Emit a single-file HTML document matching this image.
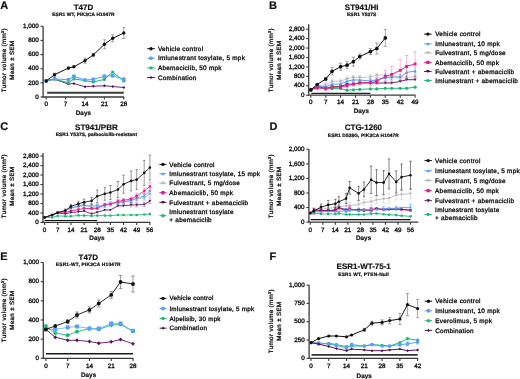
<!DOCTYPE html>
<html><head><meta charset="utf-8"><style>
html,body{margin:0;padding:0;background:#fff;}
svg{display:block;font-family:"Liberation Sans", sans-serif;will-change:transform;} text{stroke:#111;stroke-width:0.18px;text-rendering:geometricPrecision;}
</style></head><body>
<svg width="520" height="379" viewBox="0 0 520 379">
<rect width="520" height="379" fill="#fff"/>
<text x="0.30" y="8.80" font-size="11.0" text-anchor="start" font-weight="bold" fill="#111" >A</text>
<text x="83.50" y="9.80" font-size="8.0" text-anchor="middle" font-weight="bold" fill="#111" >T47D</text>
<text x="83.50" y="16.06" font-size="4.8" text-anchor="middle" font-weight="bold" fill="#111" letter-spacing="0.12" style="stroke-width:0.24px">ESR1 WT, PIK3CA H1047R</text>
<line x1="43.10" y1="26.30" x2="43.10" y2="97.00" stroke="#3a3a3a" stroke-width="1.3"/>
<line x1="40.50" y1="97.00" x2="43.10" y2="97.00" stroke="#3a3a3a" stroke-width="1.1"/>
<text x="38.80" y="98.70" font-size="6.3" text-anchor="end" font-weight="normal" fill="#111" style="stroke-width:0.34px">0</text>
<line x1="40.50" y1="82.86" x2="43.10" y2="82.86" stroke="#3a3a3a" stroke-width="1.1"/>
<text x="38.80" y="84.56" font-size="6.3" text-anchor="end" font-weight="normal" fill="#111" style="stroke-width:0.34px">200</text>
<line x1="40.50" y1="68.72" x2="43.10" y2="68.72" stroke="#3a3a3a" stroke-width="1.1"/>
<text x="38.80" y="70.42" font-size="6.3" text-anchor="end" font-weight="normal" fill="#111" style="stroke-width:0.34px">400</text>
<line x1="40.50" y1="54.58" x2="43.10" y2="54.58" stroke="#3a3a3a" stroke-width="1.1"/>
<text x="38.80" y="56.28" font-size="6.3" text-anchor="end" font-weight="normal" fill="#111" style="stroke-width:0.34px">600</text>
<line x1="40.50" y1="40.44" x2="43.10" y2="40.44" stroke="#3a3a3a" stroke-width="1.1"/>
<text x="38.80" y="42.14" font-size="6.3" text-anchor="end" font-weight="normal" fill="#111" style="stroke-width:0.34px">800</text>
<line x1="40.50" y1="26.30" x2="43.10" y2="26.30" stroke="#3a3a3a" stroke-width="1.1"/>
<text x="38.80" y="28.00" font-size="6.3" text-anchor="end" font-weight="normal" fill="#111" style="stroke-width:0.34px">1,000</text>
<line x1="42.45" y1="97.00" x2="124.19" y2="97.00" stroke="#3a3a3a" stroke-width="1.3"/>
<line x1="46.20" y1="97.00" x2="46.20" y2="99.60" stroke="#3a3a3a" stroke-width="1.1"/>
<text x="46.20" y="106.00" font-size="6.3" text-anchor="middle" font-weight="normal" fill="#111" style="stroke-width:0.34px">0</text>
<line x1="65.60" y1="97.00" x2="65.60" y2="99.60" stroke="#3a3a3a" stroke-width="1.1"/>
<text x="65.60" y="106.00" font-size="6.3" text-anchor="middle" font-weight="normal" fill="#111" style="stroke-width:0.34px">7</text>
<line x1="84.99" y1="97.00" x2="84.99" y2="99.60" stroke="#3a3a3a" stroke-width="1.1"/>
<text x="84.99" y="106.00" font-size="6.3" text-anchor="middle" font-weight="normal" fill="#111" style="stroke-width:0.34px">14</text>
<line x1="104.39" y1="97.00" x2="104.39" y2="99.60" stroke="#3a3a3a" stroke-width="1.1"/>
<text x="104.39" y="106.00" font-size="6.3" text-anchor="middle" font-weight="normal" fill="#111" style="stroke-width:0.34px">21</text>
<line x1="123.79" y1="97.00" x2="123.79" y2="99.60" stroke="#3a3a3a" stroke-width="1.1"/>
<text x="123.79" y="106.00" font-size="6.3" text-anchor="middle" font-weight="normal" fill="#111" style="stroke-width:0.34px">28</text>
<text x="83.40" y="114.54" font-size="6.4" text-anchor="middle" font-weight="bold" fill="#111" >Days</text>
<g transform="translate(6.40,60.10) rotate(-90)">
<text x="0.00" y="0.00" font-size="6.2" text-anchor="middle" font-weight="normal" fill="#111" letter-spacing="0.36" style="stroke-width:0.3px">Tumor volume (mm<tspan font-size="3.8" dy="-2">3</tspan><tspan dy="2">)</tspan></text>
<text x="0.00" y="7.80" font-size="6.2" text-anchor="middle" font-weight="normal" fill="#111" letter-spacing="0.36" style="stroke-width:0.3px">Mean ± SEM</text>
</g>
<line x1="47.17" y1="92.80" x2="123.79" y2="92.80" stroke="#3c3c3c" stroke-width="2.0"/>
<path d="M46.20 81.00 L54.51 79.30 L68.37 84.00 L73.91 83.60 L84.99 86.70 L93.31 86.20 L104.39 85.80 L112.70 86.50 L123.79 87.50" fill="none" stroke="#5a1458" stroke-width="0.9" stroke-linejoin="round"/>
<path d="M46.20 79.50L47.70 81.00L46.20 82.50L44.70 81.00Z" fill="#5a1458"/>
<path d="M54.51 77.80L56.01 79.30L54.51 80.80L53.01 79.30Z" fill="#5a1458"/>
<path d="M68.37 82.50L69.87 84.00L68.37 85.50L66.87 84.00Z" fill="#5a1458"/>
<path d="M73.91 82.10L75.41 83.60L73.91 85.10L72.41 83.60Z" fill="#5a1458"/>
<path d="M84.99 85.20L86.49 86.70L84.99 88.20L83.49 86.70Z" fill="#5a1458"/>
<path d="M93.31 84.70L94.81 86.20L93.31 87.70L91.81 86.20Z" fill="#5a1458"/>
<path d="M104.39 84.30L105.89 85.80L104.39 87.30L102.89 85.80Z" fill="#5a1458"/>
<path d="M112.70 85.00L114.20 86.50L112.70 88.00L111.20 86.50Z" fill="#5a1458"/>
<path d="M123.79 86.00L125.29 87.50L123.79 89.00L122.29 87.50Z" fill="#5a1458"/>
<path d="M46.20 80.50 L54.51 79.00 L68.37 82.80 L73.91 79.00 L84.99 80.60 L93.31 82.00 L104.39 79.40 L112.70 72.00 L123.79 81.00" fill="none" stroke="#1db877" stroke-width="1.0" stroke-linejoin="round"/>
<circle cx="46.20" cy="80.50" r="1.60" fill="#1db877"/>
<circle cx="54.51" cy="79.00" r="1.60" fill="#1db877"/>
<circle cx="68.37" cy="82.80" r="1.60" fill="#1db877"/>
<circle cx="73.91" cy="79.00" r="1.60" fill="#1db877"/>
<circle cx="84.99" cy="80.60" r="1.60" fill="#1db877"/>
<circle cx="93.31" cy="82.00" r="1.60" fill="#1db877"/>
<circle cx="104.39" cy="79.40" r="1.60" fill="#1db877"/>
<circle cx="112.70" cy="72.00" r="1.60" fill="#1db877"/>
<circle cx="123.79" cy="81.00" r="1.60" fill="#1db877"/>
<path d="M73.9 75.2V77.6M72.3 75.2H75.5M72.3 77.6H75.5" stroke="#55a2f6" stroke-width="0.7" opacity="0.8" fill="none"/>
<path d="M104.4 75.1V77.5M102.8 75.1H106.0M102.8 77.5H106.0" stroke="#55a2f6" stroke-width="0.7" opacity="0.8" fill="none"/>
<path d="M112.7 74.3V76.9M111.1 74.3H114.3M111.1 76.9H114.3" stroke="#55a2f6" stroke-width="0.7" opacity="0.8" fill="none"/>
<path d="M123.8 78.1V80.5M122.2 78.1H125.4M122.2 80.5H125.4" stroke="#55a2f6" stroke-width="0.7" opacity="0.8" fill="none"/>
<path d="M46.20 80.90 L54.51 78.80 L68.37 79.80 L73.91 76.40 L84.99 80.00 L93.31 79.40 L104.39 76.30 L112.70 75.60 L123.79 79.30" fill="none" stroke="#55a2f6" stroke-width="1.0" stroke-linejoin="round"/>
<rect x="44.41" y="79.11" width="3.58" height="3.58" rx="0.67" fill="#55a2f6"/>
<rect x="52.72" y="77.01" width="3.58" height="3.58" rx="0.67" fill="#55a2f6"/>
<rect x="66.58" y="78.01" width="3.58" height="3.58" rx="0.67" fill="#55a2f6"/>
<rect x="72.12" y="74.61" width="3.58" height="3.58" rx="0.67" fill="#55a2f6"/>
<rect x="83.20" y="78.21" width="3.58" height="3.58" rx="0.67" fill="#55a2f6"/>
<rect x="91.52" y="77.61" width="3.58" height="3.58" rx="0.67" fill="#55a2f6"/>
<rect x="102.60" y="74.51" width="3.58" height="3.58" rx="0.67" fill="#55a2f6"/>
<rect x="110.91" y="73.81" width="3.58" height="3.58" rx="0.67" fill="#55a2f6"/>
<rect x="122.00" y="77.51" width="3.58" height="3.58" rx="0.67" fill="#55a2f6"/>
<path d="M54.5 73.2V76.2M52.9 73.2H56.1M52.9 76.2H56.1" stroke="#666" stroke-width="0.7" opacity="0.8" fill="none"/>
<path d="M68.4 66.9V69.3M66.8 66.9H70.0M66.8 69.3H70.0" stroke="#666" stroke-width="0.7" opacity="0.8" fill="none"/>
<path d="M85.0 58.2V63.2M83.4 58.2H86.6M83.4 63.2H86.6" stroke="#666" stroke-width="0.7" opacity="0.8" fill="none"/>
<path d="M93.3 53.4V56.4M91.7 53.4H94.9M91.7 56.4H94.9" stroke="#666" stroke-width="0.7" opacity="0.8" fill="none"/>
<path d="M104.4 39.8V48.8M102.8 39.8H106.0M102.8 48.8H106.0" stroke="#666" stroke-width="0.7" opacity="0.8" fill="none"/>
<path d="M112.7 34.8V41.8M111.1 34.8H114.3M111.1 41.8H114.3" stroke="#666" stroke-width="0.7" opacity="0.8" fill="none"/>
<path d="M123.8 27.6V38.4M122.2 27.6H125.4M122.2 38.4H125.4" stroke="#666" stroke-width="0.7" opacity="0.8" fill="none"/>
<path d="M46.20 81.00 L54.51 74.70 L68.37 68.10 L73.91 66.80 L84.99 60.70 L93.31 54.90 L104.39 44.30 L112.70 38.30 L123.79 33.00" fill="none" stroke="#111" stroke-width="1.0" stroke-linejoin="round"/>
<circle cx="46.20" cy="81.00" r="1.68" fill="#111"/>
<circle cx="54.51" cy="74.70" r="1.68" fill="#111"/>
<circle cx="68.37" cy="68.10" r="1.68" fill="#111"/>
<circle cx="73.91" cy="66.80" r="1.68" fill="#111"/>
<circle cx="84.99" cy="60.70" r="1.68" fill="#111"/>
<circle cx="93.31" cy="54.90" r="1.68" fill="#111"/>
<circle cx="104.39" cy="44.30" r="1.68" fill="#111"/>
<circle cx="112.70" cy="38.30" r="1.68" fill="#111"/>
<circle cx="123.79" cy="33.00" r="1.68" fill="#111"/>
<line x1="147.20" y1="48.70" x2="154.80" y2="48.70" stroke="#111" stroke-width="1.0"/>
<circle cx="151.00" cy="48.70" r="1.68" fill="#111"/>
<text x="157.90" y="50.84" font-size="6.4" text-anchor="start" font-weight="normal" fill="#111" style="stroke-width:0.32px" letter-spacing="0.26">Vehicle control</text>
<line x1="147.20" y1="58.20" x2="154.80" y2="58.20" stroke="#55a2f6" stroke-width="1.0"/>
<rect x="149.32" y="56.52" width="3.36" height="3.36" rx="0.63" fill="#55a2f6"/>
<text x="157.90" y="60.34" font-size="6.4" text-anchor="start" font-weight="normal" fill="#111" style="stroke-width:0.32px" letter-spacing="0.26">Imlunestrant tosylate, 5 mpk</text>
<line x1="147.20" y1="67.90" x2="154.80" y2="67.90" stroke="#1db877" stroke-width="1.0"/>
<circle cx="151.00" cy="67.90" r="1.68" fill="#1db877"/>
<text x="157.90" y="70.04" font-size="6.4" text-anchor="start" font-weight="normal" fill="#111" style="stroke-width:0.32px" letter-spacing="0.26">Abemaciclib, 50 mpk</text>
<line x1="147.20" y1="77.50" x2="154.80" y2="77.50" stroke="#5a1458" stroke-width="1.0"/>
<path d="M151.00 75.92L152.57 77.50L151.00 79.08L149.43 77.50Z" fill="#5a1458"/>
<text x="157.90" y="79.64" font-size="6.4" text-anchor="start" font-weight="normal" fill="#111" style="stroke-width:0.32px" letter-spacing="0.26">Combination</text>
<text x="268.90" y="8.90" font-size="11.0" text-anchor="start" font-weight="bold" fill="#111" >B</text>
<text x="361.70" y="9.80" font-size="8.0" text-anchor="middle" font-weight="bold" fill="#111" >ST941/HI</text>
<text x="361.70" y="16.06" font-size="4.8" text-anchor="middle" font-weight="bold" fill="#111" letter-spacing="0.12" style="stroke-width:0.24px">ESR1 Y537S</text>
<line x1="308.70" y1="24.30" x2="308.70" y2="95.20" stroke="#3a3a3a" stroke-width="1.3"/>
<line x1="306.10" y1="95.20" x2="308.70" y2="95.20" stroke="#3a3a3a" stroke-width="1.1"/>
<text x="304.40" y="96.91" font-size="6.3" text-anchor="end" font-weight="normal" fill="#111" style="stroke-width:0.34px">0</text>
<line x1="306.10" y1="85.77" x2="308.70" y2="85.77" stroke="#3a3a3a" stroke-width="1.1"/>
<text x="304.40" y="87.48" font-size="6.3" text-anchor="end" font-weight="normal" fill="#111" style="stroke-width:0.34px">400</text>
<line x1="306.10" y1="76.34" x2="308.70" y2="76.34" stroke="#3a3a3a" stroke-width="1.1"/>
<text x="304.40" y="78.05" font-size="6.3" text-anchor="end" font-weight="normal" fill="#111" style="stroke-width:0.34px">800</text>
<line x1="306.10" y1="66.92" x2="308.70" y2="66.92" stroke="#3a3a3a" stroke-width="1.1"/>
<text x="304.40" y="68.62" font-size="6.3" text-anchor="end" font-weight="normal" fill="#111" style="stroke-width:0.34px">1,200</text>
<line x1="306.10" y1="57.49" x2="308.70" y2="57.49" stroke="#3a3a3a" stroke-width="1.1"/>
<text x="304.40" y="59.19" font-size="6.3" text-anchor="end" font-weight="normal" fill="#111" style="stroke-width:0.34px">1,600</text>
<line x1="306.10" y1="48.06" x2="308.70" y2="48.06" stroke="#3a3a3a" stroke-width="1.1"/>
<text x="304.40" y="49.77" font-size="6.3" text-anchor="end" font-weight="normal" fill="#111" style="stroke-width:0.34px">2,000</text>
<line x1="306.10" y1="38.63" x2="308.70" y2="38.63" stroke="#3a3a3a" stroke-width="1.1"/>
<text x="304.40" y="40.34" font-size="6.3" text-anchor="end" font-weight="normal" fill="#111" style="stroke-width:0.34px">2,400</text>
<line x1="306.10" y1="29.20" x2="308.70" y2="29.20" stroke="#3a3a3a" stroke-width="1.1"/>
<text x="304.40" y="30.91" font-size="6.3" text-anchor="end" font-weight="normal" fill="#111" style="stroke-width:0.34px">2,800</text>
<line x1="308.05" y1="95.20" x2="415.52" y2="95.20" stroke="#3a3a3a" stroke-width="1.3"/>
<line x1="310.80" y1="95.20" x2="310.80" y2="97.80" stroke="#3a3a3a" stroke-width="1.1"/>
<text x="310.80" y="104.11" font-size="6.3" text-anchor="middle" font-weight="normal" fill="#111" style="stroke-width:0.34px">0</text>
<line x1="325.70" y1="95.20" x2="325.70" y2="97.80" stroke="#3a3a3a" stroke-width="1.1"/>
<text x="325.70" y="104.11" font-size="6.3" text-anchor="middle" font-weight="normal" fill="#111" style="stroke-width:0.34px">7</text>
<line x1="340.61" y1="95.20" x2="340.61" y2="97.80" stroke="#3a3a3a" stroke-width="1.1"/>
<text x="340.61" y="104.11" font-size="6.3" text-anchor="middle" font-weight="normal" fill="#111" style="stroke-width:0.34px">14</text>
<line x1="355.51" y1="95.20" x2="355.51" y2="97.80" stroke="#3a3a3a" stroke-width="1.1"/>
<text x="355.51" y="104.11" font-size="6.3" text-anchor="middle" font-weight="normal" fill="#111" style="stroke-width:0.34px">21</text>
<line x1="370.41" y1="95.20" x2="370.41" y2="97.80" stroke="#3a3a3a" stroke-width="1.1"/>
<text x="370.41" y="104.11" font-size="6.3" text-anchor="middle" font-weight="normal" fill="#111" style="stroke-width:0.34px">28</text>
<line x1="385.31" y1="95.20" x2="385.31" y2="97.80" stroke="#3a3a3a" stroke-width="1.1"/>
<text x="385.31" y="104.11" font-size="6.3" text-anchor="middle" font-weight="normal" fill="#111" style="stroke-width:0.34px">35</text>
<line x1="400.22" y1="95.20" x2="400.22" y2="97.80" stroke="#3a3a3a" stroke-width="1.1"/>
<text x="400.22" y="104.11" font-size="6.3" text-anchor="middle" font-weight="normal" fill="#111" style="stroke-width:0.34px">42</text>
<line x1="415.12" y1="95.20" x2="415.12" y2="97.80" stroke="#3a3a3a" stroke-width="1.1"/>
<text x="415.12" y="104.11" font-size="6.3" text-anchor="middle" font-weight="normal" fill="#111" style="stroke-width:0.34px">49</text>
<text x="361.30" y="112.64" font-size="6.4" text-anchor="middle" font-weight="bold" fill="#111" >Days</text>
<g transform="translate(273.10,60.10) rotate(-90)">
<text x="0.00" y="0.00" font-size="6.2" text-anchor="middle" font-weight="normal" fill="#111" letter-spacing="0.36" style="stroke-width:0.3px">Tumor volume (mm<tspan font-size="3.8" dy="-2">3</tspan><tspan dy="2">)</tspan></text>
<text x="0.00" y="7.80" font-size="6.2" text-anchor="middle" font-weight="normal" fill="#111" letter-spacing="0.36" style="stroke-width:0.3px">Mean ± SEM</text>
</g>
<line x1="311.23" y1="93.30" x2="370.41" y2="93.30" stroke="#222" stroke-width="1.3"/>
<path d="M325.7 82.8V86.8M324.1 82.8H327.3M324.1 86.8H327.3" stroke="#b4b4b4" stroke-width="0.7" opacity="0.6" fill="none"/>
<path d="M332.1 79.3V83.3M330.5 79.3H333.7M330.5 83.3H333.7" stroke="#b4b4b4" stroke-width="0.7" opacity="0.6" fill="none"/>
<path d="M340.6 79.3V83.3M339.0 79.3H342.2M339.0 83.3H342.2" stroke="#b4b4b4" stroke-width="0.7" opacity="0.6" fill="none"/>
<path d="M347.0 76.7V80.7M345.4 76.7H348.6M345.4 80.7H348.6" stroke="#b4b4b4" stroke-width="0.7" opacity="0.6" fill="none"/>
<path d="M353.4 75.5V79.5M351.8 75.5H355.0M351.8 79.5H355.0" stroke="#b4b4b4" stroke-width="0.7" opacity="0.6" fill="none"/>
<path d="M359.8 75.5V79.5M358.2 75.5H361.4M358.2 79.5H361.4" stroke="#b4b4b4" stroke-width="0.7" opacity="0.6" fill="none"/>
<path d="M370.4 75.0V79.0M368.8 75.0H372.0M368.8 79.0H372.0" stroke="#b4b4b4" stroke-width="0.7" opacity="0.6" fill="none"/>
<path d="M376.8 73.1V77.1M375.2 73.1H378.4M375.2 77.1H378.4" stroke="#b4b4b4" stroke-width="0.7" opacity="0.6" fill="none"/>
<path d="M385.3 73.1V77.1M383.7 73.1H386.9M383.7 77.1H386.9" stroke="#b4b4b4" stroke-width="0.7" opacity="0.6" fill="none"/>
<path d="M391.7 75.0V79.0M390.1 75.0H393.3M390.1 79.0H393.3" stroke="#b4b4b4" stroke-width="0.7" opacity="0.6" fill="none"/>
<path d="M400.2 75.0V79.0M398.6 75.0H401.8M398.6 79.0H401.8" stroke="#b4b4b4" stroke-width="0.7" opacity="0.6" fill="none"/>
<path d="M406.6 75.0V79.0M405.0 75.0H408.2M405.0 79.0H408.2" stroke="#b4b4b4" stroke-width="0.7" opacity="0.6" fill="none"/>
<path d="M415.1 75.0V79.0M413.5 75.0H416.7M413.5 79.0H416.7" stroke="#b4b4b4" stroke-width="0.7" opacity="0.6" fill="none"/>
<path d="M310.80 89.80 L317.19 86.00 L325.70 84.80 L332.09 81.30 L340.61 81.30 L346.99 78.70 L353.38 77.50 L359.77 77.50 L370.41 77.00 L376.80 75.10 L385.31 75.10 L391.70 77.00 L400.22 77.00 L406.61 77.00 L415.12 77.00" fill="none" stroke="#b4b4b4" stroke-width="0.7" stroke-linejoin="round"/>
<path d="M310.80 91.24L312.25 88.64L309.36 88.64Z" fill="#b4b4b4"/>
<path d="M317.19 87.44L318.63 84.84L315.74 84.84Z" fill="#b4b4b4"/>
<path d="M325.70 86.24L327.15 83.64L324.26 83.64Z" fill="#b4b4b4"/>
<path d="M332.09 82.74L333.54 80.14L330.65 80.14Z" fill="#b4b4b4"/>
<path d="M340.61 82.74L342.05 80.14L339.16 80.14Z" fill="#b4b4b4"/>
<path d="M346.99 80.14L348.44 77.54L345.55 77.54Z" fill="#b4b4b4"/>
<path d="M353.38 78.94L354.82 76.34L351.94 76.34Z" fill="#b4b4b4"/>
<path d="M359.77 78.94L361.21 76.34L358.32 76.34Z" fill="#b4b4b4"/>
<path d="M370.41 78.44L371.86 75.84L368.97 75.84Z" fill="#b4b4b4"/>
<path d="M376.80 76.54L378.24 73.94L375.35 73.94Z" fill="#b4b4b4"/>
<path d="M385.31 76.54L386.76 73.94L383.87 73.94Z" fill="#b4b4b4"/>
<path d="M391.70 78.44L393.15 75.84L390.26 75.84Z" fill="#b4b4b4"/>
<path d="M400.22 78.44L401.66 75.84L398.77 75.84Z" fill="#b4b4b4"/>
<path d="M406.61 78.44L408.05 75.84L405.16 75.84Z" fill="#b4b4b4"/>
<path d="M415.12 78.44L416.57 75.84L413.68 75.84Z" fill="#b4b4b4"/>
<path d="M325.7 85.3V88.3M324.1 85.3H327.3M324.1 88.3H327.3" stroke="#55a2f6" stroke-width="0.7" opacity="0.45" fill="none"/>
<path d="M332.1 82.2V86.2M330.5 82.2H333.7M330.5 86.2H333.7" stroke="#55a2f6" stroke-width="0.7" opacity="0.45" fill="none"/>
<path d="M340.6 82.0V86.0M339.0 82.0H342.2M339.0 86.0H342.2" stroke="#55a2f6" stroke-width="0.7" opacity="0.45" fill="none"/>
<path d="M347.0 79.3V83.3M345.4 79.3H348.6M345.4 83.3H348.6" stroke="#55a2f6" stroke-width="0.7" opacity="0.45" fill="none"/>
<path d="M353.4 77.3V82.3M351.8 77.3H355.0M351.8 82.3H355.0" stroke="#55a2f6" stroke-width="0.7" opacity="0.45" fill="none"/>
<path d="M359.8 77.6V82.6M358.2 77.6H361.4M358.2 82.6H361.4" stroke="#55a2f6" stroke-width="0.7" opacity="0.45" fill="none"/>
<path d="M370.4 78.5V83.5M368.8 78.5H372.0M368.8 83.5H372.0" stroke="#55a2f6" stroke-width="0.7" opacity="0.45" fill="none"/>
<path d="M376.8 77.2V82.2M375.2 77.2H378.4M375.2 82.2H378.4" stroke="#55a2f6" stroke-width="0.7" opacity="0.45" fill="none"/>
<path d="M385.3 74.7V80.7M383.7 74.7H386.9M383.7 80.7H386.9" stroke="#55a2f6" stroke-width="0.7" opacity="0.45" fill="none"/>
<path d="M391.7 74.0V80.0M390.1 74.0H393.3M390.1 80.0H393.3" stroke="#55a2f6" stroke-width="0.7" opacity="0.45" fill="none"/>
<path d="M400.2 74.0V80.0M398.6 74.0H401.8M398.6 80.0H401.8" stroke="#55a2f6" stroke-width="0.7" opacity="0.45" fill="none"/>
<path d="M406.6 66.4V78.4M405.0 66.4H408.2M405.0 78.4H408.2" stroke="#55a2f6" stroke-width="0.7" opacity="0.45" fill="none"/>
<path d="M415.1 65.1V77.1M413.5 65.1H416.7M413.5 77.1H416.7" stroke="#55a2f6" stroke-width="0.7" opacity="0.45" fill="none"/>
<path d="M310.80 89.80 L317.19 86.00 L325.70 86.80 L332.09 84.20 L340.61 84.00 L346.99 81.30 L353.38 79.80 L359.77 80.10 L370.41 81.00 L376.80 79.70 L385.31 77.70 L391.70 77.00 L400.22 77.00 L406.61 72.40 L415.12 71.10" fill="none" stroke="#55a2f6" stroke-width="1.0" stroke-linejoin="round"/>
<path d="M310.80 88.10L312.50 91.16L309.10 91.16Z" fill="#55a2f6"/>
<path d="M317.19 84.30L318.89 87.36L315.49 87.36Z" fill="#55a2f6"/>
<path d="M325.70 85.10L327.40 88.16L324.00 88.16Z" fill="#55a2f6"/>
<path d="M332.09 82.50L333.79 85.56L330.39 85.56Z" fill="#55a2f6"/>
<path d="M340.61 82.30L342.31 85.36L338.91 85.36Z" fill="#55a2f6"/>
<path d="M346.99 79.60L348.69 82.66L345.29 82.66Z" fill="#55a2f6"/>
<path d="M353.38 78.10L355.08 81.16L351.68 81.16Z" fill="#55a2f6"/>
<path d="M359.77 78.40L361.47 81.46L358.07 81.46Z" fill="#55a2f6"/>
<path d="M370.41 79.30L372.11 82.36L368.71 82.36Z" fill="#55a2f6"/>
<path d="M376.80 78.00L378.50 81.06L375.10 81.06Z" fill="#55a2f6"/>
<path d="M385.31 76.00L387.01 79.06L383.62 79.06Z" fill="#55a2f6"/>
<path d="M391.70 75.30L393.40 78.36L390.00 78.36Z" fill="#55a2f6"/>
<path d="M400.22 75.30L401.92 78.36L398.52 78.36Z" fill="#55a2f6"/>
<path d="M406.61 70.70L408.31 73.76L404.91 73.76Z" fill="#55a2f6"/>
<path d="M415.12 69.40L416.82 72.46L413.42 72.46Z" fill="#55a2f6"/>
<path d="M310.80 89.80 L317.19 86.80 L325.70 88.30 L332.09 86.80 L340.61 86.50 L346.99 84.20 L353.38 84.20 L359.77 82.80 L370.41 83.00 L376.80 83.00 L385.31 83.00 L391.70 83.00 L400.22 81.40 L406.61 79.70 L415.12 79.70" fill="none" stroke="#5a1458" stroke-width="0.9" stroke-linejoin="round"/>
<path d="M310.80 91.24L312.25 88.64L309.36 88.64Z" fill="#5a1458"/>
<path d="M317.19 88.24L318.63 85.64L315.74 85.64Z" fill="#5a1458"/>
<path d="M325.70 89.74L327.15 87.14L324.26 87.14Z" fill="#5a1458"/>
<path d="M332.09 88.24L333.54 85.64L330.65 85.64Z" fill="#5a1458"/>
<path d="M340.61 87.94L342.05 85.34L339.16 85.34Z" fill="#5a1458"/>
<path d="M346.99 85.64L348.44 83.04L345.55 83.04Z" fill="#5a1458"/>
<path d="M353.38 85.64L354.82 83.04L351.94 83.04Z" fill="#5a1458"/>
<path d="M359.77 84.24L361.21 81.64L358.32 81.64Z" fill="#5a1458"/>
<path d="M370.41 84.44L371.86 81.84L368.97 81.84Z" fill="#5a1458"/>
<path d="M376.80 84.44L378.24 81.84L375.35 81.84Z" fill="#5a1458"/>
<path d="M385.31 84.44L386.76 81.84L383.87 81.84Z" fill="#5a1458"/>
<path d="M391.70 84.44L393.15 81.84L390.26 81.84Z" fill="#5a1458"/>
<path d="M400.22 82.84L401.66 80.24L398.77 80.24Z" fill="#5a1458"/>
<path d="M406.61 81.14L408.05 78.54L405.16 78.54Z" fill="#5a1458"/>
<path d="M415.12 81.14L416.57 78.54L413.68 78.54Z" fill="#5a1458"/>
<path d="M310.80 89.80 L317.19 87.70 L325.70 88.60 L332.09 88.60 L340.61 88.60 L346.99 90.20 L353.38 89.80 L359.77 89.40 L370.41 88.90 L376.80 88.90 L385.31 88.30 L391.70 88.30 L400.22 88.30 L406.61 88.30 L415.12 87.20" fill="none" stroke="#1db877" stroke-width="1.0" stroke-linejoin="round"/>
<circle cx="310.80" cy="89.80" r="1.60" fill="#1db877"/>
<circle cx="317.19" cy="87.70" r="1.60" fill="#1db877"/>
<circle cx="325.70" cy="88.60" r="1.60" fill="#1db877"/>
<circle cx="332.09" cy="88.60" r="1.60" fill="#1db877"/>
<circle cx="340.61" cy="88.60" r="1.60" fill="#1db877"/>
<circle cx="346.99" cy="90.20" r="1.60" fill="#1db877"/>
<circle cx="353.38" cy="89.80" r="1.60" fill="#1db877"/>
<circle cx="359.77" cy="89.40" r="1.60" fill="#1db877"/>
<circle cx="370.41" cy="88.90" r="1.60" fill="#1db877"/>
<circle cx="376.80" cy="88.90" r="1.60" fill="#1db877"/>
<circle cx="385.31" cy="88.30" r="1.60" fill="#1db877"/>
<circle cx="391.70" cy="88.30" r="1.60" fill="#1db877"/>
<circle cx="400.22" cy="88.30" r="1.60" fill="#1db877"/>
<circle cx="406.61" cy="88.30" r="1.60" fill="#1db877"/>
<circle cx="415.12" cy="87.20" r="1.60" fill="#1db877"/>
<path d="M317.2 85.7V89.7M315.6 85.7H318.8M315.6 89.7H318.8" stroke="#ec1a8a" stroke-width="0.7" opacity="0.45" fill="none"/>
<path d="M325.7 86.6V90.6M324.1 86.6H327.3M324.1 90.6H327.3" stroke="#ec1a8a" stroke-width="0.7" opacity="0.45" fill="none"/>
<path d="M332.1 85.3V89.3M330.5 85.3H333.7M330.5 89.3H333.7" stroke="#ec1a8a" stroke-width="0.7" opacity="0.45" fill="none"/>
<path d="M340.6 85.1V89.1M339.0 85.1H342.2M339.0 89.1H342.2" stroke="#ec1a8a" stroke-width="0.7" opacity="0.45" fill="none"/>
<path d="M347.0 83.6V87.6M345.4 83.6H348.6M345.4 87.6H348.6" stroke="#ec1a8a" stroke-width="0.7" opacity="0.45" fill="none"/>
<path d="M353.4 82.0V86.0M351.8 82.0H355.0M351.8 86.0H355.0" stroke="#ec1a8a" stroke-width="0.7" opacity="0.45" fill="none"/>
<path d="M359.8 81.1V85.1M358.2 81.1H361.4M358.2 85.1H361.4" stroke="#ec1a8a" stroke-width="0.7" opacity="0.45" fill="none"/>
<path d="M370.4 79.7V85.7M368.8 79.7H372.0M368.8 85.7H372.0" stroke="#ec1a8a" stroke-width="0.7" opacity="0.45" fill="none"/>
<path d="M376.8 78.3V84.3M375.2 78.3H378.4M375.2 84.3H378.4" stroke="#ec1a8a" stroke-width="0.7" opacity="0.45" fill="none"/>
<path d="M385.3 70.4V82.4M383.7 70.4H386.9M383.7 82.4H386.9" stroke="#ec1a8a" stroke-width="0.7" opacity="0.45" fill="none"/>
<path d="M391.7 66.4V82.4M390.1 66.4H393.3M390.1 82.4H393.3" stroke="#ec1a8a" stroke-width="0.7" opacity="0.45" fill="none"/>
<path d="M400.2 59.4V81.4M398.6 59.4H401.8M398.6 81.4H401.8" stroke="#ec1a8a" stroke-width="0.7" opacity="0.45" fill="none"/>
<path d="M406.6 55.5V77.5M405.0 55.5H408.2M405.0 77.5H408.2" stroke="#ec1a8a" stroke-width="0.7" opacity="0.45" fill="none"/>
<path d="M415.1 51.4V76.4M413.5 51.4H416.7M413.5 76.4H416.7" stroke="#ec1a8a" stroke-width="0.7" opacity="0.45" fill="none"/>
<path d="M310.80 89.80 L317.19 87.70 L325.70 88.60 L332.09 87.30 L340.61 87.10 L346.99 85.60 L353.38 84.00 L359.77 83.10 L370.41 82.70 L376.80 81.30 L385.31 76.40 L391.70 74.40 L400.22 70.40 L406.61 66.50 L415.12 63.90" fill="none" stroke="#ec1a8a" stroke-width="1.0" stroke-linejoin="round"/>
<rect x="309.36" y="88.36" width="2.88" height="2.88" rx="0.54" fill="#ec1a8a"/>
<rect x="315.75" y="86.26" width="2.88" height="2.88" rx="0.54" fill="#ec1a8a"/>
<rect x="324.26" y="87.16" width="2.88" height="2.88" rx="0.54" fill="#ec1a8a"/>
<rect x="330.65" y="85.86" width="2.88" height="2.88" rx="0.54" fill="#ec1a8a"/>
<rect x="339.17" y="85.66" width="2.88" height="2.88" rx="0.54" fill="#ec1a8a"/>
<rect x="345.55" y="84.16" width="2.88" height="2.88" rx="0.54" fill="#ec1a8a"/>
<rect x="351.94" y="82.56" width="2.88" height="2.88" rx="0.54" fill="#ec1a8a"/>
<rect x="358.33" y="81.66" width="2.88" height="2.88" rx="0.54" fill="#ec1a8a"/>
<rect x="368.97" y="81.26" width="2.88" height="2.88" rx="0.54" fill="#ec1a8a"/>
<rect x="375.36" y="79.86" width="2.88" height="2.88" rx="0.54" fill="#ec1a8a"/>
<rect x="383.88" y="74.96" width="2.88" height="2.88" rx="0.54" fill="#ec1a8a"/>
<rect x="390.26" y="72.96" width="2.88" height="2.88" rx="0.54" fill="#ec1a8a"/>
<rect x="398.78" y="68.96" width="2.88" height="2.88" rx="0.54" fill="#ec1a8a"/>
<rect x="405.17" y="65.06" width="2.88" height="2.88" rx="0.54" fill="#ec1a8a"/>
<rect x="413.68" y="62.46" width="2.88" height="2.88" rx="0.54" fill="#ec1a8a"/>
<path d="M325.7 77.5V80.5M324.1 77.5H327.3M324.1 80.5H327.3" stroke="#666" stroke-width="0.7" opacity="0.8" fill="none"/>
<path d="M332.1 67.6V75.0M330.5 67.6H333.7M330.5 75.0H333.7" stroke="#666" stroke-width="0.7" opacity="0.8" fill="none"/>
<path d="M340.6 63.2V70.2M339.0 63.2H342.2M339.0 70.2H342.2" stroke="#666" stroke-width="0.7" opacity="0.8" fill="none"/>
<path d="M347.0 61.7V68.7M345.4 61.7H348.6M345.4 68.7H348.6" stroke="#666" stroke-width="0.7" opacity="0.8" fill="none"/>
<path d="M353.4 57.2V66.2M351.8 57.2H355.0M351.8 66.2H355.0" stroke="#666" stroke-width="0.7" opacity="0.8" fill="none"/>
<path d="M359.8 54.0V59.0M358.2 54.0H361.4M358.2 59.0H361.4" stroke="#666" stroke-width="0.7" opacity="0.8" fill="none"/>
<path d="M370.4 48.6V54.6M368.8 48.6H372.0M368.8 54.6H372.0" stroke="#666" stroke-width="0.7" opacity="0.8" fill="none"/>
<path d="M376.8 43.0V54.0M375.2 43.0H378.4M375.2 54.0H378.4" stroke="#666" stroke-width="0.7" opacity="0.8" fill="none"/>
<path d="M385.3 29.4V46.4M383.7 29.4H386.9M383.7 46.4H386.9" stroke="#666" stroke-width="0.7" opacity="0.8" fill="none"/>
<path d="M310.80 89.80 L317.19 84.50 L325.70 79.00 L332.09 71.30 L340.61 66.70 L346.99 65.20 L353.38 61.70 L359.77 56.50 L370.41 51.60 L376.80 48.50 L385.31 37.90" fill="none" stroke="#111" stroke-width="1.0" stroke-linejoin="round"/>
<circle cx="310.80" cy="89.80" r="1.84" fill="#111"/>
<circle cx="317.19" cy="84.50" r="1.84" fill="#111"/>
<circle cx="325.70" cy="79.00" r="1.84" fill="#111"/>
<circle cx="332.09" cy="71.30" r="1.84" fill="#111"/>
<circle cx="340.61" cy="66.70" r="1.84" fill="#111"/>
<circle cx="346.99" cy="65.20" r="1.84" fill="#111"/>
<circle cx="353.38" cy="61.70" r="1.84" fill="#111"/>
<circle cx="359.77" cy="56.50" r="1.84" fill="#111"/>
<circle cx="370.41" cy="51.60" r="1.84" fill="#111"/>
<circle cx="376.80" cy="48.50" r="1.84" fill="#111"/>
<circle cx="385.31" cy="37.90" r="1.84" fill="#111"/>
<line x1="424.10" y1="34.10" x2="431.60" y2="34.10" stroke="#111" stroke-width="1.0"/>
<circle cx="427.85" cy="34.10" r="1.68" fill="#111"/>
<text x="435.20" y="36.24" font-size="6.4" text-anchor="start" font-weight="normal" fill="#111" style="stroke-width:0.32px" letter-spacing="0.26">Vehicle control</text>
<line x1="424.10" y1="43.80" x2="431.60" y2="43.80" stroke="#55a2f6" stroke-width="1.0"/>
<path d="M427.85 42.02L429.64 45.23L426.06 45.23Z" fill="#55a2f6"/>
<text x="435.20" y="45.94" font-size="6.4" text-anchor="start" font-weight="normal" fill="#111" style="stroke-width:0.32px" letter-spacing="0.26">Imlunestrant, 10 mpk</text>
<line x1="424.10" y1="52.90" x2="431.60" y2="52.90" stroke="#b4b4b4" stroke-width="1.0"/>
<path d="M427.85 54.68L429.64 51.47L426.06 51.47Z" fill="#b4b4b4"/>
<text x="435.20" y="55.04" font-size="6.4" text-anchor="start" font-weight="normal" fill="#111" style="stroke-width:0.32px" letter-spacing="0.26">Fulvestrant, 5 mg/dose</text>
<line x1="424.10" y1="62.40" x2="431.60" y2="62.40" stroke="#ec1a8a" stroke-width="1.0"/>
<rect x="426.17" y="60.72" width="3.36" height="3.36" rx="0.63" fill="#ec1a8a"/>
<text x="435.20" y="64.54" font-size="6.4" text-anchor="start" font-weight="normal" fill="#111" style="stroke-width:0.32px" letter-spacing="0.26">Abemaciclib, 50 mpk</text>
<line x1="424.10" y1="71.50" x2="431.60" y2="71.50" stroke="#5a1458" stroke-width="1.0"/>
<path d="M427.85 73.28L429.64 70.07L426.06 70.07Z" fill="#5a1458"/>
<text x="435.20" y="73.64" font-size="6.4" text-anchor="start" font-weight="normal" fill="#111" style="stroke-width:0.32px" letter-spacing="0.26">Fulvestrant + abemaciclib</text>
<line x1="424.10" y1="80.60" x2="431.60" y2="80.60" stroke="#1db877" stroke-width="1.0"/>
<circle cx="427.85" cy="80.60" r="1.68" fill="#1db877"/>
<text x="435.20" y="82.74" font-size="6.4" text-anchor="start" font-weight="normal" fill="#111" style="stroke-width:0.32px" letter-spacing="0.26">Imlunestrant + abemaciclib</text>
<text x="0.20" y="130.00" font-size="11.0" text-anchor="start" font-weight="bold" fill="#111" >C</text>
<text x="96.40" y="129.90" font-size="8.0" text-anchor="middle" font-weight="bold" fill="#111" >ST941/PBR</text>
<text x="96.40" y="136.46" font-size="4.8" text-anchor="middle" font-weight="bold" fill="#111" letter-spacing="0.12" style="stroke-width:0.24px">ESR1 Y537S, palbociclib-resistant</text>
<line x1="43.00" y1="153.00" x2="43.00" y2="222.40" stroke="#3a3a3a" stroke-width="1.3"/>
<line x1="40.40" y1="222.40" x2="43.00" y2="222.40" stroke="#3a3a3a" stroke-width="1.1"/>
<text x="38.70" y="224.11" font-size="6.3" text-anchor="end" font-weight="normal" fill="#111" style="stroke-width:0.34px">0</text>
<line x1="40.40" y1="212.93" x2="43.00" y2="212.93" stroke="#3a3a3a" stroke-width="1.1"/>
<text x="38.70" y="214.63" font-size="6.3" text-anchor="end" font-weight="normal" fill="#111" style="stroke-width:0.34px">400</text>
<line x1="40.40" y1="203.46" x2="43.00" y2="203.46" stroke="#3a3a3a" stroke-width="1.1"/>
<text x="38.70" y="205.16" font-size="6.3" text-anchor="end" font-weight="normal" fill="#111" style="stroke-width:0.34px">800</text>
<line x1="40.40" y1="193.98" x2="43.00" y2="193.98" stroke="#3a3a3a" stroke-width="1.1"/>
<text x="38.70" y="195.69" font-size="6.3" text-anchor="end" font-weight="normal" fill="#111" style="stroke-width:0.34px">1,200</text>
<line x1="40.40" y1="184.51" x2="43.00" y2="184.51" stroke="#3a3a3a" stroke-width="1.1"/>
<text x="38.70" y="186.22" font-size="6.3" text-anchor="end" font-weight="normal" fill="#111" style="stroke-width:0.34px">1,600</text>
<line x1="40.40" y1="175.04" x2="43.00" y2="175.04" stroke="#3a3a3a" stroke-width="1.1"/>
<text x="38.70" y="176.75" font-size="6.3" text-anchor="end" font-weight="normal" fill="#111" style="stroke-width:0.34px">2,000</text>
<line x1="40.40" y1="165.57" x2="43.00" y2="165.57" stroke="#3a3a3a" stroke-width="1.1"/>
<text x="38.70" y="167.27" font-size="6.3" text-anchor="end" font-weight="normal" fill="#111" style="stroke-width:0.34px">2,400</text>
<line x1="40.40" y1="156.10" x2="43.00" y2="156.10" stroke="#3a3a3a" stroke-width="1.1"/>
<text x="38.70" y="157.80" font-size="6.3" text-anchor="end" font-weight="normal" fill="#111" style="stroke-width:0.34px">2,800</text>
<line x1="42.35" y1="222.40" x2="150.28" y2="222.40" stroke="#3a3a3a" stroke-width="1.3"/>
<line x1="44.60" y1="222.40" x2="44.60" y2="225.00" stroke="#3a3a3a" stroke-width="1.1"/>
<text x="44.60" y="231.81" font-size="6.3" text-anchor="middle" font-weight="normal" fill="#111" style="stroke-width:0.34px">0</text>
<line x1="57.76" y1="222.40" x2="57.76" y2="225.00" stroke="#3a3a3a" stroke-width="1.1"/>
<text x="57.76" y="231.81" font-size="6.3" text-anchor="middle" font-weight="normal" fill="#111" style="stroke-width:0.34px">7</text>
<line x1="70.92" y1="222.40" x2="70.92" y2="225.00" stroke="#3a3a3a" stroke-width="1.1"/>
<text x="70.92" y="231.81" font-size="6.3" text-anchor="middle" font-weight="normal" fill="#111" style="stroke-width:0.34px">14</text>
<line x1="84.08" y1="222.40" x2="84.08" y2="225.00" stroke="#3a3a3a" stroke-width="1.1"/>
<text x="84.08" y="231.81" font-size="6.3" text-anchor="middle" font-weight="normal" fill="#111" style="stroke-width:0.34px">21</text>
<line x1="97.24" y1="222.40" x2="97.24" y2="225.00" stroke="#3a3a3a" stroke-width="1.1"/>
<text x="97.24" y="231.81" font-size="6.3" text-anchor="middle" font-weight="normal" fill="#111" style="stroke-width:0.34px">28</text>
<line x1="110.40" y1="222.40" x2="110.40" y2="225.00" stroke="#3a3a3a" stroke-width="1.1"/>
<text x="110.40" y="231.81" font-size="6.3" text-anchor="middle" font-weight="normal" fill="#111" style="stroke-width:0.34px">35</text>
<line x1="123.56" y1="222.40" x2="123.56" y2="225.00" stroke="#3a3a3a" stroke-width="1.1"/>
<text x="123.56" y="231.81" font-size="6.3" text-anchor="middle" font-weight="normal" fill="#111" style="stroke-width:0.34px">42</text>
<line x1="136.72" y1="222.40" x2="136.72" y2="225.00" stroke="#3a3a3a" stroke-width="1.1"/>
<text x="136.72" y="231.81" font-size="6.3" text-anchor="middle" font-weight="normal" fill="#111" style="stroke-width:0.34px">49</text>
<line x1="149.88" y1="222.40" x2="149.88" y2="225.00" stroke="#3a3a3a" stroke-width="1.1"/>
<text x="149.88" y="231.81" font-size="6.3" text-anchor="middle" font-weight="normal" fill="#111" style="stroke-width:0.34px">56</text>
<text x="97.00" y="240.44" font-size="6.4" text-anchor="middle" font-weight="bold" fill="#111" >Days</text>
<g transform="translate(6.40,186.10) rotate(-90)">
<text x="0.00" y="0.00" font-size="6.2" text-anchor="middle" font-weight="normal" fill="#111" letter-spacing="0.36" style="stroke-width:0.3px">Tumor volume (mm<tspan font-size="3.8" dy="-2">3</tspan><tspan dy="2">)</tspan></text>
<text x="0.00" y="7.80" font-size="6.2" text-anchor="middle" font-weight="normal" fill="#111" letter-spacing="0.36" style="stroke-width:0.3px">Mean ± SEM</text>
</g>
<line x1="44.69" y1="220.50" x2="97.24" y2="220.50" stroke="#111" stroke-width="1.0"/>
<path d="M65.3 208.5V212.5M63.7 208.5H66.9M63.7 212.5H66.9" stroke="#b4b4b4" stroke-width="0.7" opacity="0.8" fill="none"/>
<path d="M70.9 206.0V210.0M69.3 206.0H72.5M69.3 210.0H72.5" stroke="#b4b4b4" stroke-width="0.7" opacity="0.8" fill="none"/>
<path d="M78.4 204.8V208.8M76.8 204.8H80.0M76.8 208.8H80.0" stroke="#b4b4b4" stroke-width="0.7" opacity="0.8" fill="none"/>
<path d="M84.1 203.5V207.5M82.5 203.5H85.7M82.5 207.5H85.7" stroke="#b4b4b4" stroke-width="0.7" opacity="0.8" fill="none"/>
<path d="M91.6 203.5V207.5M90.0 203.5H93.2M90.0 207.5H93.2" stroke="#b4b4b4" stroke-width="0.7" opacity="0.8" fill="none"/>
<path d="M97.2 203.5V207.5M95.6 203.5H98.8M95.6 207.5H98.8" stroke="#b4b4b4" stroke-width="0.7" opacity="0.8" fill="none"/>
<path d="M104.8 203.0V207.0M103.2 203.0H106.4M103.2 207.0H106.4" stroke="#b4b4b4" stroke-width="0.7" opacity="0.8" fill="none"/>
<path d="M110.4 202.0V206.0M108.8 202.0H112.0M108.8 206.0H112.0" stroke="#b4b4b4" stroke-width="0.7" opacity="0.8" fill="none"/>
<path d="M117.9 200.8V204.8M116.3 200.8H119.5M116.3 204.8H119.5" stroke="#b4b4b4" stroke-width="0.7" opacity="0.8" fill="none"/>
<path d="M123.6 200.0V204.0M122.0 200.0H125.2M122.0 204.0H125.2" stroke="#b4b4b4" stroke-width="0.7" opacity="0.8" fill="none"/>
<path d="M131.1 198.5V202.5M129.5 198.5H132.7M129.5 202.5H132.7" stroke="#b4b4b4" stroke-width="0.7" opacity="0.8" fill="none"/>
<path d="M136.7 197.0V201.0M135.1 197.0H138.3M135.1 201.0H138.3" stroke="#b4b4b4" stroke-width="0.7" opacity="0.8" fill="none"/>
<path d="M144.2 194.5V200.5M142.6 194.5H145.8M142.6 200.5H145.8" stroke="#b4b4b4" stroke-width="0.7" opacity="0.8" fill="none"/>
<path d="M149.9 191.0V197.0M148.3 191.0H151.5M148.3 197.0H151.5" stroke="#b4b4b4" stroke-width="0.7" opacity="0.8" fill="none"/>
<path d="M44.60 217.40 L52.12 215.00 L57.76 212.70 L65.28 210.50 L70.92 208.00 L78.44 206.80 L84.08 205.50 L91.60 205.50 L97.24 205.50 L104.76 205.00 L110.40 204.00 L117.92 202.80 L123.56 202.00 L131.08 200.50 L136.72 199.00 L144.24 197.50 L149.88 194.00" fill="none" stroke="#b4b4b4" stroke-width="0.85" stroke-linejoin="round"/>
<path d="M44.60 218.76L45.96 216.31L43.24 216.31Z" fill="#b4b4b4"/>
<path d="M52.12 216.36L53.48 213.91L50.76 213.91Z" fill="#b4b4b4"/>
<path d="M57.76 214.06L59.12 211.61L56.40 211.61Z" fill="#b4b4b4"/>
<path d="M65.28 211.86L66.64 209.41L63.92 209.41Z" fill="#b4b4b4"/>
<path d="M70.92 209.36L72.28 206.91L69.56 206.91Z" fill="#b4b4b4"/>
<path d="M78.44 208.16L79.80 205.71L77.08 205.71Z" fill="#b4b4b4"/>
<path d="M84.08 206.86L85.44 204.41L82.72 204.41Z" fill="#b4b4b4"/>
<path d="M91.60 206.86L92.96 204.41L90.24 204.41Z" fill="#b4b4b4"/>
<path d="M97.24 206.86L98.60 204.41L95.88 204.41Z" fill="#b4b4b4"/>
<path d="M104.76 206.36L106.12 203.91L103.40 203.91Z" fill="#b4b4b4"/>
<path d="M110.40 205.36L111.76 202.91L109.04 202.91Z" fill="#b4b4b4"/>
<path d="M117.92 204.16L119.28 201.71L116.56 201.71Z" fill="#b4b4b4"/>
<path d="M123.56 203.36L124.92 200.91L122.20 200.91Z" fill="#b4b4b4"/>
<path d="M131.08 201.86L132.44 199.41L129.72 199.41Z" fill="#b4b4b4"/>
<path d="M136.72 200.36L138.08 197.91L135.36 197.91Z" fill="#b4b4b4"/>
<path d="M144.24 198.86L145.60 196.41L142.88 196.41Z" fill="#b4b4b4"/>
<path d="M149.88 195.36L151.24 192.91L148.52 192.91Z" fill="#b4b4b4"/>
<path d="M70.9 206.5V209.5M69.3 206.5H72.5M69.3 209.5H72.5" stroke="#55a2f6" stroke-width="0.7" opacity="0.8" fill="none"/>
<path d="M78.4 204.2V207.2M76.8 204.2H80.0M76.8 207.2H80.0" stroke="#55a2f6" stroke-width="0.7" opacity="0.8" fill="none"/>
<path d="M84.1 202.9V206.9M82.5 202.9H85.7M82.5 206.9H85.7" stroke="#55a2f6" stroke-width="0.7" opacity="0.8" fill="none"/>
<path d="M91.6 205.3V209.3M90.0 205.3H93.2M90.0 209.3H93.2" stroke="#55a2f6" stroke-width="0.7" opacity="0.8" fill="none"/>
<path d="M97.2 204.7V208.7M95.6 204.7H98.8M95.6 208.7H98.8" stroke="#55a2f6" stroke-width="0.7" opacity="0.8" fill="none"/>
<path d="M104.8 203.8V207.8M103.2 203.8H106.4M103.2 207.8H106.4" stroke="#55a2f6" stroke-width="0.7" opacity="0.8" fill="none"/>
<path d="M110.4 201.9V205.9M108.8 201.9H112.0M108.8 205.9H112.0" stroke="#55a2f6" stroke-width="0.7" opacity="0.8" fill="none"/>
<path d="M117.9 200.1V204.1M116.3 200.1H119.5M116.3 204.1H119.5" stroke="#55a2f6" stroke-width="0.7" opacity="0.8" fill="none"/>
<path d="M123.6 200.1V204.1M122.0 200.1H125.2M122.0 204.1H125.2" stroke="#55a2f6" stroke-width="0.7" opacity="0.8" fill="none"/>
<path d="M131.1 198.3V202.3M129.5 198.3H132.7M129.5 202.3H132.7" stroke="#55a2f6" stroke-width="0.7" opacity="0.8" fill="none"/>
<path d="M136.7 194.9V200.9M135.1 194.9H138.3M135.1 200.9H138.3" stroke="#55a2f6" stroke-width="0.7" opacity="0.8" fill="none"/>
<path d="M144.2 193.0V199.0M142.6 193.0H145.8M142.6 199.0H145.8" stroke="#55a2f6" stroke-width="0.7" opacity="0.8" fill="none"/>
<path d="M149.9 188.0V194.0M148.3 188.0H151.5M148.3 194.0H151.5" stroke="#55a2f6" stroke-width="0.7" opacity="0.8" fill="none"/>
<path d="M44.60 217.40 L52.12 215.00 L57.76 212.70 L65.28 210.20 L70.92 208.00 L78.44 205.70 L84.08 204.90 L91.60 207.30 L97.24 206.70 L104.76 205.80 L110.40 203.90 L117.92 202.10 L123.56 202.10 L131.08 200.30 L136.72 197.90 L144.24 196.00 L149.88 191.00" fill="none" stroke="#55a2f6" stroke-width="0.85" stroke-linejoin="round"/>
<path d="M44.60 216.04L45.96 218.49L43.24 218.49Z" fill="#55a2f6"/>
<path d="M52.12 213.64L53.48 216.09L50.76 216.09Z" fill="#55a2f6"/>
<path d="M57.76 211.34L59.12 213.79L56.40 213.79Z" fill="#55a2f6"/>
<path d="M65.28 208.84L66.64 211.29L63.92 211.29Z" fill="#55a2f6"/>
<path d="M70.92 206.64L72.28 209.09L69.56 209.09Z" fill="#55a2f6"/>
<path d="M78.44 204.34L79.80 206.79L77.08 206.79Z" fill="#55a2f6"/>
<path d="M84.08 203.54L85.44 205.99L82.72 205.99Z" fill="#55a2f6"/>
<path d="M91.60 205.94L92.96 208.39L90.24 208.39Z" fill="#55a2f6"/>
<path d="M97.24 205.34L98.60 207.79L95.88 207.79Z" fill="#55a2f6"/>
<path d="M104.76 204.44L106.12 206.89L103.40 206.89Z" fill="#55a2f6"/>
<path d="M110.40 202.54L111.76 204.99L109.04 204.99Z" fill="#55a2f6"/>
<path d="M117.92 200.74L119.28 203.19L116.56 203.19Z" fill="#55a2f6"/>
<path d="M123.56 200.74L124.92 203.19L122.20 203.19Z" fill="#55a2f6"/>
<path d="M131.08 198.94L132.44 201.39L129.72 201.39Z" fill="#55a2f6"/>
<path d="M136.72 196.54L138.08 198.99L135.36 198.99Z" fill="#55a2f6"/>
<path d="M144.24 194.64L145.60 197.09L142.88 197.09Z" fill="#55a2f6"/>
<path d="M149.88 189.64L151.24 192.09L148.52 192.09Z" fill="#55a2f6"/>
<path d="M117.9 199.5V203.5M116.3 199.5H119.5M116.3 203.5H119.5" stroke="#ec1a8a" stroke-width="0.7" opacity="0.45" fill="none"/>
<path d="M123.6 198.3V202.3M122.0 198.3H125.2M122.0 202.3H125.2" stroke="#ec1a8a" stroke-width="0.7" opacity="0.45" fill="none"/>
<path d="M131.1 197.0V201.0M129.5 197.0H132.7M129.5 201.0H132.7" stroke="#ec1a8a" stroke-width="0.7" opacity="0.45" fill="none"/>
<path d="M136.7 193.0V199.0M135.1 193.0H138.3M135.1 199.0H138.3" stroke="#ec1a8a" stroke-width="0.7" opacity="0.45" fill="none"/>
<path d="M144.2 188.0V194.0M142.6 188.0H145.8M142.6 194.0H145.8" stroke="#ec1a8a" stroke-width="0.7" opacity="0.45" fill="none"/>
<path d="M149.9 182.4V190.4M148.3 182.4H151.5M148.3 190.4H151.5" stroke="#ec1a8a" stroke-width="0.7" opacity="0.45" fill="none"/>
<path d="M44.60 217.40 L52.12 215.00 L57.76 212.20 L65.28 212.20 L70.92 211.10 L78.44 209.50 L84.08 208.50 L91.60 208.50 L97.24 208.60 L104.76 204.50 L110.40 203.90 L117.92 201.50 L123.56 200.30 L131.08 199.00 L136.72 196.00 L144.24 191.00 L149.88 186.40" fill="none" stroke="#ec1a8a" stroke-width="0.85" stroke-linejoin="round"/>
<rect x="43.40" y="216.20" width="2.40" height="2.40" rx="0.45" fill="#ec1a8a"/>
<rect x="50.92" y="213.80" width="2.40" height="2.40" rx="0.45" fill="#ec1a8a"/>
<rect x="56.56" y="211.00" width="2.40" height="2.40" rx="0.45" fill="#ec1a8a"/>
<rect x="64.08" y="211.00" width="2.40" height="2.40" rx="0.45" fill="#ec1a8a"/>
<rect x="69.72" y="209.90" width="2.40" height="2.40" rx="0.45" fill="#ec1a8a"/>
<rect x="77.24" y="208.30" width="2.40" height="2.40" rx="0.45" fill="#ec1a8a"/>
<rect x="82.88" y="207.30" width="2.40" height="2.40" rx="0.45" fill="#ec1a8a"/>
<rect x="90.40" y="207.30" width="2.40" height="2.40" rx="0.45" fill="#ec1a8a"/>
<rect x="96.04" y="207.40" width="2.40" height="2.40" rx="0.45" fill="#ec1a8a"/>
<rect x="103.56" y="203.30" width="2.40" height="2.40" rx="0.45" fill="#ec1a8a"/>
<rect x="109.20" y="202.70" width="2.40" height="2.40" rx="0.45" fill="#ec1a8a"/>
<rect x="116.72" y="200.30" width="2.40" height="2.40" rx="0.45" fill="#ec1a8a"/>
<rect x="122.36" y="199.10" width="2.40" height="2.40" rx="0.45" fill="#ec1a8a"/>
<rect x="129.88" y="197.80" width="2.40" height="2.40" rx="0.45" fill="#ec1a8a"/>
<rect x="135.52" y="194.80" width="2.40" height="2.40" rx="0.45" fill="#ec1a8a"/>
<rect x="143.04" y="189.80" width="2.40" height="2.40" rx="0.45" fill="#ec1a8a"/>
<rect x="148.68" y="185.20" width="2.40" height="2.40" rx="0.45" fill="#ec1a8a"/>
<path d="M131.1 202.9V206.9M129.5 202.9H132.7M129.5 206.9H132.7" stroke="#5a1458" stroke-width="0.7" opacity="0.4" fill="none"/>
<path d="M136.7 202.9V206.9M135.1 202.9H138.3M135.1 206.9H138.3" stroke="#5a1458" stroke-width="0.7" opacity="0.4" fill="none"/>
<path d="M144.2 202.5V206.5M142.6 202.5H145.8M142.6 206.5H145.8" stroke="#5a1458" stroke-width="0.7" opacity="0.4" fill="none"/>
<path d="M149.9 198.7V203.7M148.3 198.7H151.5M148.3 203.7H151.5" stroke="#5a1458" stroke-width="0.7" opacity="0.4" fill="none"/>
<path d="M44.60 217.40 L52.12 215.00 L57.76 213.00 L65.28 213.80 L70.92 212.60 L78.44 211.80 L84.08 211.10 L91.60 213.80 L97.24 212.30 L104.76 210.00 L110.40 210.00 L117.92 205.80 L123.56 205.80 L131.08 204.90 L136.72 204.90 L144.24 204.50 L149.88 201.20" fill="none" stroke="#5a1458" stroke-width="0.85" stroke-linejoin="round"/>
<path d="M44.60 218.76L45.96 216.31L43.24 216.31Z" fill="#5a1458"/>
<path d="M52.12 216.36L53.48 213.91L50.76 213.91Z" fill="#5a1458"/>
<path d="M57.76 214.36L59.12 211.91L56.40 211.91Z" fill="#5a1458"/>
<path d="M65.28 215.16L66.64 212.71L63.92 212.71Z" fill="#5a1458"/>
<path d="M70.92 213.96L72.28 211.51L69.56 211.51Z" fill="#5a1458"/>
<path d="M78.44 213.16L79.80 210.71L77.08 210.71Z" fill="#5a1458"/>
<path d="M84.08 212.46L85.44 210.01L82.72 210.01Z" fill="#5a1458"/>
<path d="M91.60 215.16L92.96 212.71L90.24 212.71Z" fill="#5a1458"/>
<path d="M97.24 213.66L98.60 211.21L95.88 211.21Z" fill="#5a1458"/>
<path d="M104.76 211.36L106.12 208.91L103.40 208.91Z" fill="#5a1458"/>
<path d="M110.40 211.36L111.76 208.91L109.04 208.91Z" fill="#5a1458"/>
<path d="M117.92 207.16L119.28 204.71L116.56 204.71Z" fill="#5a1458"/>
<path d="M123.56 207.16L124.92 204.71L122.20 204.71Z" fill="#5a1458"/>
<path d="M131.08 206.26L132.44 203.81L129.72 203.81Z" fill="#5a1458"/>
<path d="M136.72 206.26L138.08 203.81L135.36 203.81Z" fill="#5a1458"/>
<path d="M144.24 205.86L145.60 203.41L142.88 203.41Z" fill="#5a1458"/>
<path d="M149.88 202.56L151.24 200.11L148.52 200.11Z" fill="#5a1458"/>
<path d="M44.60 217.40 L52.12 217.40 L57.76 215.90 L65.28 216.20 L70.92 216.20 L78.44 215.40 L84.08 215.40 L91.60 215.90 L97.24 215.60 L104.76 215.60 L110.40 215.60 L117.92 215.00 L123.56 215.00 L131.08 215.00 L136.72 215.00 L144.24 214.50 L149.88 214.10" fill="none" stroke="#1db877" stroke-width="0.85" stroke-linejoin="round"/>
<circle cx="44.60" cy="217.40" r="1.28" fill="#1db877"/>
<circle cx="52.12" cy="217.40" r="1.28" fill="#1db877"/>
<circle cx="57.76" cy="215.90" r="1.28" fill="#1db877"/>
<circle cx="65.28" cy="216.20" r="1.28" fill="#1db877"/>
<circle cx="70.92" cy="216.20" r="1.28" fill="#1db877"/>
<circle cx="78.44" cy="215.40" r="1.28" fill="#1db877"/>
<circle cx="84.08" cy="215.40" r="1.28" fill="#1db877"/>
<circle cx="91.60" cy="215.90" r="1.28" fill="#1db877"/>
<circle cx="97.24" cy="215.60" r="1.28" fill="#1db877"/>
<circle cx="104.76" cy="215.60" r="1.28" fill="#1db877"/>
<circle cx="110.40" cy="215.60" r="1.28" fill="#1db877"/>
<circle cx="117.92" cy="215.00" r="1.28" fill="#1db877"/>
<circle cx="123.56" cy="215.00" r="1.28" fill="#1db877"/>
<circle cx="131.08" cy="215.00" r="1.28" fill="#1db877"/>
<circle cx="136.72" cy="215.00" r="1.28" fill="#1db877"/>
<circle cx="144.24" cy="214.50" r="1.28" fill="#1db877"/>
<circle cx="149.88" cy="214.10" r="1.28" fill="#1db877"/>
<path d="M70.9 204.4V208.4M69.7 204.4H72.1M69.7 208.4H72.1" stroke="#3a3a3a" stroke-width="0.6" opacity="0.85" fill="none"/>
<path d="M78.4 201.3V206.3M77.2 201.3H79.6M77.2 206.3H79.6" stroke="#3a3a3a" stroke-width="0.6" opacity="0.85" fill="none"/>
<path d="M84.1 199.2V205.2M82.9 199.2H85.3M82.9 205.2H85.3" stroke="#3a3a3a" stroke-width="0.6" opacity="0.85" fill="none"/>
<path d="M91.6 197.3V204.3M90.4 197.3H92.8M90.4 204.3H92.8" stroke="#3a3a3a" stroke-width="0.6" opacity="0.85" fill="none"/>
<path d="M97.2 190.0V202.6M96.0 190.0H98.4M96.0 202.6H98.4" stroke="#3a3a3a" stroke-width="0.6" opacity="0.85" fill="none"/>
<path d="M104.8 187.3V200.3M103.6 187.3H106.0M103.6 200.3H106.0" stroke="#3a3a3a" stroke-width="0.6" opacity="0.85" fill="none"/>
<path d="M110.4 185.5V199.5M109.2 185.5H111.6M109.2 199.5H111.6" stroke="#3a3a3a" stroke-width="0.6" opacity="0.85" fill="none"/>
<path d="M117.9 181.5V197.5M116.7 181.5H119.1M116.7 197.5H119.1" stroke="#3a3a3a" stroke-width="0.6" opacity="0.85" fill="none"/>
<path d="M123.6 175.2V193.2M122.4 175.2H124.8M122.4 193.2H124.8" stroke="#3a3a3a" stroke-width="0.6" opacity="0.85" fill="none"/>
<path d="M131.1 170.9V190.9M129.9 170.9H132.3M129.9 190.9H132.3" stroke="#3a3a3a" stroke-width="0.6" opacity="0.85" fill="none"/>
<path d="M136.7 169.6V189.6M135.5 169.6H137.9M135.5 189.6H137.9" stroke="#3a3a3a" stroke-width="0.6" opacity="0.85" fill="none"/>
<path d="M144.2 160.4V185.4M143.0 160.4H145.4M143.0 185.4H145.4" stroke="#3a3a3a" stroke-width="0.6" opacity="0.85" fill="none"/>
<path d="M149.9 155.1V180.1M148.7 155.1H151.1M148.7 180.1H151.1" stroke="#3a3a3a" stroke-width="0.6" opacity="0.85" fill="none"/>
<path d="M44.60 217.40 L52.12 215.00 L57.76 212.70 L65.28 210.60 L70.92 206.40 L78.44 203.80 L84.08 202.20 L91.60 200.80 L97.24 196.30 L104.76 193.80 L110.40 192.50 L117.92 189.50 L123.56 184.20 L131.08 180.90 L136.72 179.60 L144.24 172.90 L149.88 167.60" fill="none" stroke="#111" stroke-width="0.85" stroke-linejoin="round"/>
<circle cx="44.60" cy="217.40" r="1.28" fill="#111"/>
<circle cx="52.12" cy="215.00" r="1.28" fill="#111"/>
<circle cx="57.76" cy="212.70" r="1.28" fill="#111"/>
<circle cx="65.28" cy="210.60" r="1.28" fill="#111"/>
<circle cx="70.92" cy="206.40" r="1.28" fill="#111"/>
<circle cx="78.44" cy="203.80" r="1.28" fill="#111"/>
<circle cx="84.08" cy="202.20" r="1.28" fill="#111"/>
<circle cx="91.60" cy="200.80" r="1.28" fill="#111"/>
<circle cx="97.24" cy="196.30" r="1.28" fill="#111"/>
<circle cx="104.76" cy="193.80" r="1.28" fill="#111"/>
<circle cx="110.40" cy="192.50" r="1.28" fill="#111"/>
<circle cx="117.92" cy="189.50" r="1.28" fill="#111"/>
<circle cx="123.56" cy="184.20" r="1.28" fill="#111"/>
<circle cx="131.08" cy="180.90" r="1.28" fill="#111"/>
<circle cx="136.72" cy="179.60" r="1.28" fill="#111"/>
<circle cx="144.24" cy="172.90" r="1.28" fill="#111"/>
<circle cx="149.88" cy="167.60" r="1.28" fill="#111"/>
<line x1="159.40" y1="164.40" x2="166.50" y2="164.40" stroke="#111" stroke-width="1.0"/>
<circle cx="162.95" cy="164.40" r="1.68" fill="#111"/>
<text x="169.30" y="166.54" font-size="6.4" text-anchor="start" font-weight="normal" fill="#111" style="stroke-width:0.32px" letter-spacing="0.26">Vehicle control</text>
<line x1="159.40" y1="173.70" x2="166.50" y2="173.70" stroke="#55a2f6" stroke-width="1.0"/>
<path d="M162.95 171.91L164.73 175.13L161.16 175.13Z" fill="#55a2f6"/>
<text x="169.30" y="175.84" font-size="6.4" text-anchor="start" font-weight="normal" fill="#111" style="stroke-width:0.32px" letter-spacing="0.26">Imlunestrant tosylate, 15 mpk</text>
<line x1="159.40" y1="183.20" x2="166.50" y2="183.20" stroke="#b4b4b4" stroke-width="1.0"/>
<path d="M162.95 184.98L164.73 181.77L161.16 181.77Z" fill="#b4b4b4"/>
<text x="169.30" y="185.34" font-size="6.4" text-anchor="start" font-weight="normal" fill="#111" style="stroke-width:0.32px" letter-spacing="0.26">Fulvestrant, 5 mg/dose</text>
<line x1="159.40" y1="192.70" x2="166.50" y2="192.70" stroke="#ec1a8a" stroke-width="1.0"/>
<rect x="161.27" y="191.02" width="3.36" height="3.36" rx="0.63" fill="#ec1a8a"/>
<text x="169.30" y="194.84" font-size="6.4" text-anchor="start" font-weight="normal" fill="#111" style="stroke-width:0.32px" letter-spacing="0.26">Abemaciclib, 50 mpk</text>
<line x1="159.40" y1="202.40" x2="166.50" y2="202.40" stroke="#5a1458" stroke-width="1.0"/>
<path d="M162.95 204.19L164.73 200.97L161.16 200.97Z" fill="#5a1458"/>
<text x="169.30" y="204.54" font-size="6.4" text-anchor="start" font-weight="normal" fill="#111" style="stroke-width:0.32px" letter-spacing="0.26">Fulvestrant + abemaciclib</text>
<line x1="159.40" y1="215.70" x2="166.50" y2="215.70" stroke="#1db877" stroke-width="1.0"/>
<circle cx="162.95" cy="215.70" r="1.68" fill="#1db877"/>
<text x="169.30" y="213.64" font-size="6.4" text-anchor="start" font-weight="normal" fill="#111" style="stroke-width:0.32px" letter-spacing="0.26">Imlunestrant tosylate</text>
<text x="169.30" y="221.84" font-size="6.4" text-anchor="start" font-weight="normal" fill="#111" style="stroke-width:0.32px" letter-spacing="0.26">+ abemaciclib</text>
<text x="269.40" y="130.00" font-size="11.0" text-anchor="start" font-weight="bold" fill="#111" >D</text>
<text x="363.40" y="129.80" font-size="8.0" text-anchor="middle" font-weight="bold" fill="#111" >CTG-1260</text>
<text x="363.40" y="136.66" font-size="4.8" text-anchor="middle" font-weight="bold" fill="#111" letter-spacing="0.12" style="stroke-width:0.24px">ESR1 D538G, PIK3CA H1047R</text>
<line x1="308.90" y1="149.30" x2="308.90" y2="222.10" stroke="#3a3a3a" stroke-width="1.3"/>
<line x1="306.30" y1="222.10" x2="308.90" y2="222.10" stroke="#3a3a3a" stroke-width="1.1"/>
<text x="304.60" y="223.81" font-size="6.3" text-anchor="end" font-weight="normal" fill="#111" style="stroke-width:0.34px">0</text>
<line x1="306.30" y1="207.54" x2="308.90" y2="207.54" stroke="#3a3a3a" stroke-width="1.1"/>
<text x="304.60" y="209.25" font-size="6.3" text-anchor="end" font-weight="normal" fill="#111" style="stroke-width:0.34px">400</text>
<line x1="306.30" y1="192.98" x2="308.90" y2="192.98" stroke="#3a3a3a" stroke-width="1.1"/>
<text x="304.60" y="194.69" font-size="6.3" text-anchor="end" font-weight="normal" fill="#111" style="stroke-width:0.34px">800</text>
<line x1="306.30" y1="178.42" x2="308.90" y2="178.42" stroke="#3a3a3a" stroke-width="1.1"/>
<text x="304.60" y="180.12" font-size="6.3" text-anchor="end" font-weight="normal" fill="#111" style="stroke-width:0.34px">1,200</text>
<line x1="306.30" y1="163.86" x2="308.90" y2="163.86" stroke="#3a3a3a" stroke-width="1.1"/>
<text x="304.60" y="165.56" font-size="6.3" text-anchor="end" font-weight="normal" fill="#111" style="stroke-width:0.34px">1,600</text>
<line x1="306.30" y1="149.30" x2="308.90" y2="149.30" stroke="#3a3a3a" stroke-width="1.1"/>
<text x="304.60" y="151.01" font-size="6.3" text-anchor="end" font-weight="normal" fill="#111" style="stroke-width:0.34px">2,000</text>
<line x1="308.25" y1="222.10" x2="418.30" y2="222.10" stroke="#3a3a3a" stroke-width="1.3"/>
<line x1="310.30" y1="222.10" x2="310.30" y2="224.70" stroke="#3a3a3a" stroke-width="1.1"/>
<text x="310.30" y="231.81" font-size="6.3" text-anchor="middle" font-weight="normal" fill="#111" style="stroke-width:0.34px">0</text>
<line x1="322.82" y1="222.10" x2="322.82" y2="224.70" stroke="#3a3a3a" stroke-width="1.1"/>
<text x="322.82" y="231.81" font-size="6.3" text-anchor="middle" font-weight="normal" fill="#111" style="stroke-width:0.34px">7</text>
<line x1="335.35" y1="222.10" x2="335.35" y2="224.70" stroke="#3a3a3a" stroke-width="1.1"/>
<text x="335.35" y="231.81" font-size="6.3" text-anchor="middle" font-weight="normal" fill="#111" style="stroke-width:0.34px">14</text>
<line x1="347.87" y1="222.10" x2="347.87" y2="224.70" stroke="#3a3a3a" stroke-width="1.1"/>
<text x="347.87" y="231.81" font-size="6.3" text-anchor="middle" font-weight="normal" fill="#111" style="stroke-width:0.34px">21</text>
<line x1="360.39" y1="222.10" x2="360.39" y2="224.70" stroke="#3a3a3a" stroke-width="1.1"/>
<text x="360.39" y="231.81" font-size="6.3" text-anchor="middle" font-weight="normal" fill="#111" style="stroke-width:0.34px">28</text>
<line x1="372.92" y1="222.10" x2="372.92" y2="224.70" stroke="#3a3a3a" stroke-width="1.1"/>
<text x="372.92" y="231.81" font-size="6.3" text-anchor="middle" font-weight="normal" fill="#111" style="stroke-width:0.34px">35</text>
<line x1="385.44" y1="222.10" x2="385.44" y2="224.70" stroke="#3a3a3a" stroke-width="1.1"/>
<text x="385.44" y="231.81" font-size="6.3" text-anchor="middle" font-weight="normal" fill="#111" style="stroke-width:0.34px">42</text>
<line x1="397.96" y1="222.10" x2="397.96" y2="224.70" stroke="#3a3a3a" stroke-width="1.1"/>
<text x="397.96" y="231.81" font-size="6.3" text-anchor="middle" font-weight="normal" fill="#111" style="stroke-width:0.34px">49</text>
<line x1="410.48" y1="222.10" x2="410.48" y2="224.70" stroke="#3a3a3a" stroke-width="1.1"/>
<text x="410.48" y="231.81" font-size="6.3" text-anchor="middle" font-weight="normal" fill="#111" style="stroke-width:0.34px">56</text>
<text x="363.60" y="240.14" font-size="6.4" text-anchor="middle" font-weight="bold" fill="#111" >Days</text>
<g transform="translate(273.10,186.10) rotate(-90)">
<text x="0.00" y="0.00" font-size="6.2" text-anchor="middle" font-weight="normal" fill="#111" letter-spacing="0.36" style="stroke-width:0.3px">Tumor volume (mm<tspan font-size="3.8" dy="-2">3</tspan><tspan dy="2">)</tspan></text>
<text x="0.00" y="7.80" font-size="6.2" text-anchor="middle" font-weight="normal" fill="#111" letter-spacing="0.36" style="stroke-width:0.3px">Mean ± SEM</text>
</g>
<line x1="310.66" y1="219.60" x2="410.48" y2="219.60" stroke="#111" stroke-width="1.2"/>
<path d="M321.0 206.3V210.3M319.4 206.3H322.6M319.4 210.3H322.6" stroke="#b4b4b4" stroke-width="0.7" opacity="0.55" fill="none"/>
<path d="M328.2 206.3V210.3M326.6 206.3H329.8M326.6 210.3H329.8" stroke="#b4b4b4" stroke-width="0.7" opacity="0.55" fill="none"/>
<path d="M335.3 205.5V209.5M333.7 205.5H336.9M333.7 209.5H336.9" stroke="#b4b4b4" stroke-width="0.7" opacity="0.55" fill="none"/>
<path d="M338.9 204.5V208.5M337.3 204.5H340.5M337.3 208.5H340.5" stroke="#b4b4b4" stroke-width="0.7" opacity="0.55" fill="none"/>
<path d="M346.1 203.0V209.0M344.5 203.0H347.7M344.5 209.0H347.7" stroke="#b4b4b4" stroke-width="0.7" opacity="0.55" fill="none"/>
<path d="M349.7 202.5V208.5M348.1 202.5H351.3M348.1 208.5H351.3" stroke="#b4b4b4" stroke-width="0.7" opacity="0.55" fill="none"/>
<path d="M358.6 201.6V207.6M357.0 201.6H360.2M357.0 207.6H360.2" stroke="#b4b4b4" stroke-width="0.7" opacity="0.55" fill="none"/>
<path d="M364.0 199.5V205.5M362.4 199.5H365.6M362.4 205.5H365.6" stroke="#b4b4b4" stroke-width="0.7" opacity="0.55" fill="none"/>
<path d="M371.1 197.6V205.6M369.5 197.6H372.7M369.5 205.6H372.7" stroke="#b4b4b4" stroke-width="0.7" opacity="0.55" fill="none"/>
<path d="M376.5 195.9V203.9M374.9 195.9H378.1M374.9 203.9H378.1" stroke="#b4b4b4" stroke-width="0.7" opacity="0.55" fill="none"/>
<path d="M383.6 194.8V202.8M382.0 194.8H385.2M382.0 202.8H385.2" stroke="#b4b4b4" stroke-width="0.7" opacity="0.55" fill="none"/>
<path d="M389.0 193.2V203.2M387.4 193.2H390.6M387.4 203.2H390.6" stroke="#b4b4b4" stroke-width="0.7" opacity="0.55" fill="none"/>
<path d="M396.2 190.0V200.0M394.6 190.0H397.8M394.6 200.0H397.8" stroke="#b4b4b4" stroke-width="0.7" opacity="0.55" fill="none"/>
<path d="M401.5 189.6V199.6M399.9 189.6H403.1M399.9 199.6H403.1" stroke="#b4b4b4" stroke-width="0.7" opacity="0.55" fill="none"/>
<path d="M410.5 188.6V198.6M408.9 188.6H412.1M408.9 198.6H412.1" stroke="#b4b4b4" stroke-width="0.7" opacity="0.55" fill="none"/>
<path d="M310.30 213.10 L313.88 210.50 L321.03 208.30 L328.19 208.30 L335.35 207.50 L338.92 206.50 L346.08 206.00 L349.66 205.50 L358.60 204.60 L363.97 202.50 L371.13 201.60 L376.49 199.90 L383.65 198.80 L389.02 198.20 L396.17 195.00 L401.54 194.60 L410.48 193.60" fill="none" stroke="#b4b4b4" stroke-width="0.8" stroke-linejoin="round"/>
<path d="M310.30 214.49L311.69 211.98L308.91 211.98Z" fill="#b4b4b4"/>
<path d="M313.88 211.89L315.27 209.38L312.48 209.38Z" fill="#b4b4b4"/>
<path d="M321.03 209.69L322.43 207.18L319.64 207.18Z" fill="#b4b4b4"/>
<path d="M328.19 209.69L329.58 207.18L326.80 207.18Z" fill="#b4b4b4"/>
<path d="M335.35 208.89L336.74 206.38L333.95 206.38Z" fill="#b4b4b4"/>
<path d="M338.92 207.89L340.32 205.38L337.53 205.38Z" fill="#b4b4b4"/>
<path d="M346.08 207.39L347.47 204.88L344.69 204.88Z" fill="#b4b4b4"/>
<path d="M349.66 206.89L351.05 204.38L348.26 204.38Z" fill="#b4b4b4"/>
<path d="M358.60 205.99L360.00 203.48L357.21 203.48Z" fill="#b4b4b4"/>
<path d="M363.97 203.89L365.36 201.38L362.58 201.38Z" fill="#b4b4b4"/>
<path d="M371.13 202.99L372.52 200.48L369.73 200.48Z" fill="#b4b4b4"/>
<path d="M376.49 201.29L377.89 198.78L375.10 198.78Z" fill="#b4b4b4"/>
<path d="M383.65 200.19L385.04 197.68L382.25 197.68Z" fill="#b4b4b4"/>
<path d="M389.02 199.59L390.41 197.08L387.62 197.08Z" fill="#b4b4b4"/>
<path d="M396.17 196.39L397.57 193.88L394.78 193.88Z" fill="#b4b4b4"/>
<path d="M401.54 195.99L402.93 193.48L400.14 193.48Z" fill="#b4b4b4"/>
<path d="M410.48 194.99L411.88 192.48L409.09 192.48Z" fill="#b4b4b4"/>
<path d="M313.9 208.1V214.1M312.3 208.1H315.5M312.3 214.1H315.5" stroke="#ec1a8a" stroke-width="0.7" opacity="0.8" fill="none"/>
<path d="M321.0 208.6V212.6M319.4 208.6H322.6M319.4 212.6H322.6" stroke="#ec1a8a" stroke-width="0.7" opacity="0.8" fill="none"/>
<path d="M335.3 207.7V211.7M333.7 207.7H336.9M333.7 211.7H336.9" stroke="#ec1a8a" stroke-width="0.7" opacity="0.8" fill="none"/>
<path d="M349.7 206.8V210.8M348.1 206.8H351.3M348.1 210.8H351.3" stroke="#ec1a8a" stroke-width="0.7" opacity="0.8" fill="none"/>
<path d="M371.1 207.4V211.4M369.5 207.4H372.7M369.5 211.4H372.7" stroke="#ec1a8a" stroke-width="0.7" opacity="0.8" fill="none"/>
<path d="M310.30 213.10 L313.88 211.10 L321.03 210.60 L328.19 210.60 L335.35 209.70 L338.92 208.30 L346.08 210.60 L349.66 208.80 L358.60 210.60 L363.97 210.60 L371.13 209.40 L376.49 208.30 L383.65 209.40 L389.02 208.80 L396.17 208.80 L401.54 209.40 L410.48 210.40" fill="none" stroke="#ec1a8a" stroke-width="0.9" stroke-linejoin="round"/>
<rect x="308.99" y="211.79" width="2.62" height="2.62" rx="0.49" fill="#ec1a8a"/>
<rect x="312.57" y="209.79" width="2.62" height="2.62" rx="0.49" fill="#ec1a8a"/>
<rect x="319.72" y="209.29" width="2.62" height="2.62" rx="0.49" fill="#ec1a8a"/>
<rect x="326.88" y="209.29" width="2.62" height="2.62" rx="0.49" fill="#ec1a8a"/>
<rect x="334.03" y="208.39" width="2.62" height="2.62" rx="0.49" fill="#ec1a8a"/>
<rect x="337.61" y="206.99" width="2.62" height="2.62" rx="0.49" fill="#ec1a8a"/>
<rect x="344.77" y="209.29" width="2.62" height="2.62" rx="0.49" fill="#ec1a8a"/>
<rect x="348.35" y="207.49" width="2.62" height="2.62" rx="0.49" fill="#ec1a8a"/>
<rect x="357.29" y="209.29" width="2.62" height="2.62" rx="0.49" fill="#ec1a8a"/>
<rect x="362.66" y="209.29" width="2.62" height="2.62" rx="0.49" fill="#ec1a8a"/>
<rect x="369.81" y="208.09" width="2.62" height="2.62" rx="0.49" fill="#ec1a8a"/>
<rect x="375.18" y="206.99" width="2.62" height="2.62" rx="0.49" fill="#ec1a8a"/>
<rect x="382.34" y="208.09" width="2.62" height="2.62" rx="0.49" fill="#ec1a8a"/>
<rect x="387.70" y="207.49" width="2.62" height="2.62" rx="0.49" fill="#ec1a8a"/>
<rect x="394.86" y="207.49" width="2.62" height="2.62" rx="0.49" fill="#ec1a8a"/>
<rect x="400.23" y="208.09" width="2.62" height="2.62" rx="0.49" fill="#ec1a8a"/>
<rect x="409.17" y="209.09" width="2.62" height="2.62" rx="0.49" fill="#ec1a8a"/>
<path d="M310.30 213.10 L313.88 209.70 L321.03 210.60 L328.19 210.60 L335.35 210.60 L338.92 207.60 L346.08 209.70 L349.66 209.70 L358.60 209.70 L363.97 209.70 L371.13 210.40 L376.49 209.00 L383.65 209.70 L389.02 209.70 L396.17 209.00 L401.54 209.40 L410.48 210.00" fill="none" stroke="#5a1458" stroke-width="0.9" stroke-linejoin="round"/>
<path d="M310.30 214.49L311.69 211.98L308.91 211.98Z" fill="#5a1458"/>
<path d="M313.88 211.09L315.27 208.58L312.48 208.58Z" fill="#5a1458"/>
<path d="M321.03 211.99L322.43 209.48L319.64 209.48Z" fill="#5a1458"/>
<path d="M328.19 211.99L329.58 209.48L326.80 209.48Z" fill="#5a1458"/>
<path d="M335.35 211.99L336.74 209.48L333.95 209.48Z" fill="#5a1458"/>
<path d="M338.92 208.99L340.32 206.48L337.53 206.48Z" fill="#5a1458"/>
<path d="M346.08 211.09L347.47 208.58L344.69 208.58Z" fill="#5a1458"/>
<path d="M349.66 211.09L351.05 208.58L348.26 208.58Z" fill="#5a1458"/>
<path d="M358.60 211.09L360.00 208.58L357.21 208.58Z" fill="#5a1458"/>
<path d="M363.97 211.09L365.36 208.58L362.58 208.58Z" fill="#5a1458"/>
<path d="M371.13 211.79L372.52 209.28L369.73 209.28Z" fill="#5a1458"/>
<path d="M376.49 210.39L377.89 207.88L375.10 207.88Z" fill="#5a1458"/>
<path d="M383.65 211.09L385.04 208.58L382.25 208.58Z" fill="#5a1458"/>
<path d="M389.02 211.09L390.41 208.58L387.62 208.58Z" fill="#5a1458"/>
<path d="M396.17 210.39L397.57 207.88L394.78 207.88Z" fill="#5a1458"/>
<path d="M401.54 210.79L402.93 208.28L400.14 208.28Z" fill="#5a1458"/>
<path d="M410.48 211.39L411.88 208.88L409.09 208.88Z" fill="#5a1458"/>
<path d="M346.1 208.6V212.6M344.5 208.6H347.7M344.5 212.6H347.7" stroke="#55a2f6" stroke-width="0.7" opacity="0.8" fill="none"/>
<path d="M349.7 207.7V211.7M348.1 207.7H351.3M348.1 211.7H351.3" stroke="#55a2f6" stroke-width="0.7" opacity="0.8" fill="none"/>
<path d="M371.1 207.4V211.4M369.5 207.4H372.7M369.5 211.4H372.7" stroke="#55a2f6" stroke-width="0.7" opacity="0.8" fill="none"/>
<path d="M383.6 206.8V210.8M382.0 206.8H385.2M382.0 210.8H385.2" stroke="#55a2f6" stroke-width="0.7" opacity="0.8" fill="none"/>
<path d="M396.2 206.3V210.3M394.6 206.3H397.8M394.6 210.3H397.8" stroke="#55a2f6" stroke-width="0.7" opacity="0.8" fill="none"/>
<path d="M410.5 204.2V210.2M408.9 204.2H412.1M408.9 210.2H412.1" stroke="#55a2f6" stroke-width="0.7" opacity="0.8" fill="none"/>
<path d="M310.30 213.10 L313.88 212.30 L321.03 211.50 L328.19 211.50 L335.35 211.50 L338.92 211.50 L346.08 210.60 L349.66 209.70 L358.60 210.60 L363.97 209.70 L371.13 209.40 L376.49 209.40 L383.65 208.80 L389.02 208.30 L396.17 208.30 L401.54 207.60 L410.48 207.20" fill="none" stroke="#55a2f6" stroke-width="0.9" stroke-linejoin="round"/>
<path d="M310.30 211.71L311.69 214.22L308.91 214.22Z" fill="#55a2f6"/>
<path d="M313.88 210.91L315.27 213.42L312.48 213.42Z" fill="#55a2f6"/>
<path d="M321.03 210.11L322.43 212.62L319.64 212.62Z" fill="#55a2f6"/>
<path d="M328.19 210.11L329.58 212.62L326.80 212.62Z" fill="#55a2f6"/>
<path d="M335.35 210.11L336.74 212.62L333.95 212.62Z" fill="#55a2f6"/>
<path d="M338.92 210.11L340.32 212.62L337.53 212.62Z" fill="#55a2f6"/>
<path d="M346.08 209.21L347.47 211.72L344.69 211.72Z" fill="#55a2f6"/>
<path d="M349.66 208.31L351.05 210.82L348.26 210.82Z" fill="#55a2f6"/>
<path d="M358.60 209.21L360.00 211.72L357.21 211.72Z" fill="#55a2f6"/>
<path d="M363.97 208.31L365.36 210.82L362.58 210.82Z" fill="#55a2f6"/>
<path d="M371.13 208.01L372.52 210.52L369.73 210.52Z" fill="#55a2f6"/>
<path d="M376.49 208.01L377.89 210.52L375.10 210.52Z" fill="#55a2f6"/>
<path d="M383.65 207.41L385.04 209.92L382.25 209.92Z" fill="#55a2f6"/>
<path d="M389.02 206.91L390.41 209.42L387.62 209.42Z" fill="#55a2f6"/>
<path d="M396.17 206.91L397.57 209.42L394.78 209.42Z" fill="#55a2f6"/>
<path d="M401.54 206.21L402.93 208.72L400.14 208.72Z" fill="#55a2f6"/>
<path d="M410.48 205.81L411.88 208.32L409.09 208.32Z" fill="#55a2f6"/>
<path d="M310.30 213.10 L313.88 213.10 L321.03 214.00 L328.19 214.00 L335.35 214.00 L338.92 213.50 L346.08 214.50 L349.66 214.50 L358.60 214.50 L363.97 214.50 L371.13 213.60 L376.49 213.60 L383.65 214.20 L389.02 214.70 L396.17 215.10 L401.54 215.70 L410.48 216.40" fill="none" stroke="#1db877" stroke-width="0.9" stroke-linejoin="round"/>
<circle cx="310.30" cy="213.10" r="1.31" fill="#1db877"/>
<circle cx="313.88" cy="213.10" r="1.31" fill="#1db877"/>
<circle cx="321.03" cy="214.00" r="1.31" fill="#1db877"/>
<circle cx="328.19" cy="214.00" r="1.31" fill="#1db877"/>
<circle cx="335.35" cy="214.00" r="1.31" fill="#1db877"/>
<circle cx="338.92" cy="213.50" r="1.31" fill="#1db877"/>
<circle cx="346.08" cy="214.50" r="1.31" fill="#1db877"/>
<circle cx="349.66" cy="214.50" r="1.31" fill="#1db877"/>
<circle cx="358.60" cy="214.50" r="1.31" fill="#1db877"/>
<circle cx="363.97" cy="214.50" r="1.31" fill="#1db877"/>
<circle cx="371.13" cy="213.60" r="1.31" fill="#1db877"/>
<circle cx="376.49" cy="213.60" r="1.31" fill="#1db877"/>
<circle cx="383.65" cy="214.20" r="1.31" fill="#1db877"/>
<circle cx="389.02" cy="214.70" r="1.31" fill="#1db877"/>
<circle cx="396.17" cy="215.10" r="1.31" fill="#1db877"/>
<circle cx="401.54" cy="215.70" r="1.31" fill="#1db877"/>
<circle cx="410.48" cy="216.40" r="1.31" fill="#1db877"/>
<path d="M321.0 204.1V210.1M319.8 204.1H322.2M319.8 210.1H322.2" stroke="#333" stroke-width="0.65" opacity="0.9" fill="none"/>
<path d="M328.2 200.4V209.4M327.0 200.4H329.4M327.0 209.4H329.4" stroke="#333" stroke-width="0.65" opacity="0.9" fill="none"/>
<path d="M335.3 199.2V208.2M334.1 199.2H336.5M334.1 208.2H336.5" stroke="#333" stroke-width="0.65" opacity="0.9" fill="none"/>
<path d="M338.9 196.7V206.7M337.7 196.7H340.1M337.7 206.7H340.1" stroke="#333" stroke-width="0.65" opacity="0.9" fill="none"/>
<path d="M346.1 193.6V203.6M344.9 193.6H347.3M344.9 203.6H347.3" stroke="#333" stroke-width="0.65" opacity="0.9" fill="none"/>
<path d="M349.7 181.4V194.2M348.5 181.4H350.9M348.5 194.2H350.9" stroke="#333" stroke-width="0.65" opacity="0.9" fill="none"/>
<path d="M358.6 186.4V200.4M357.4 186.4H359.8M357.4 200.4H359.8" stroke="#333" stroke-width="0.65" opacity="0.9" fill="none"/>
<path d="M364.0 182.0V197.0M362.8 182.0H365.2M362.8 197.0H365.2" stroke="#333" stroke-width="0.65" opacity="0.9" fill="none"/>
<path d="M371.1 166.1V193.5M369.9 166.1H372.3M369.9 193.5H372.3" stroke="#333" stroke-width="0.65" opacity="0.9" fill="none"/>
<path d="M376.5 169.6V195.6M375.3 169.6H377.7M375.3 195.6H377.7" stroke="#333" stroke-width="0.65" opacity="0.9" fill="none"/>
<path d="M383.6 170.6V194.6M382.4 170.6H384.8M382.4 194.6H384.8" stroke="#333" stroke-width="0.65" opacity="0.9" fill="none"/>
<path d="M389.0 158.9V188.9M387.8 158.9H390.2M387.8 188.9H390.2" stroke="#333" stroke-width="0.65" opacity="0.9" fill="none"/>
<path d="M396.2 170.9V192.9M395.0 170.9H397.4M395.0 192.9H397.4" stroke="#333" stroke-width="0.65" opacity="0.9" fill="none"/>
<path d="M401.5 164.1V190.1M400.3 164.1H402.7M400.3 190.1H402.7" stroke="#333" stroke-width="0.65" opacity="0.9" fill="none"/>
<path d="M410.5 161.2V189.2M409.3 161.2H411.7M409.3 189.2H411.7" stroke="#333" stroke-width="0.65" opacity="0.9" fill="none"/>
<path d="M310.30 213.10 L313.88 211.10 L321.03 207.10 L328.19 204.90 L335.35 203.70 L338.92 201.70 L346.08 198.60 L349.66 187.80 L358.60 193.40 L363.97 189.50 L371.13 179.80 L376.49 182.60 L383.65 182.60 L389.02 173.90 L396.17 181.90 L401.54 177.10 L410.48 175.20" fill="none" stroke="#111" stroke-width="0.9" stroke-linejoin="round"/>
<circle cx="310.30" cy="213.10" r="1.31" fill="#111"/>
<circle cx="313.88" cy="211.10" r="1.31" fill="#111"/>
<circle cx="321.03" cy="207.10" r="1.31" fill="#111"/>
<circle cx="328.19" cy="204.90" r="1.31" fill="#111"/>
<circle cx="335.35" cy="203.70" r="1.31" fill="#111"/>
<circle cx="338.92" cy="201.70" r="1.31" fill="#111"/>
<circle cx="346.08" cy="198.60" r="1.31" fill="#111"/>
<circle cx="349.66" cy="187.80" r="1.31" fill="#111"/>
<circle cx="358.60" cy="193.40" r="1.31" fill="#111"/>
<circle cx="363.97" cy="189.50" r="1.31" fill="#111"/>
<circle cx="371.13" cy="179.80" r="1.31" fill="#111"/>
<circle cx="376.49" cy="182.60" r="1.31" fill="#111"/>
<circle cx="383.65" cy="182.60" r="1.31" fill="#111"/>
<circle cx="389.02" cy="173.90" r="1.31" fill="#111"/>
<circle cx="396.17" cy="181.90" r="1.31" fill="#111"/>
<circle cx="401.54" cy="177.10" r="1.31" fill="#111"/>
<circle cx="410.48" cy="175.20" r="1.31" fill="#111"/>
<line x1="424.50" y1="160.60" x2="431.90" y2="160.60" stroke="#111" stroke-width="1.0"/>
<circle cx="428.20" cy="160.60" r="1.68" fill="#111"/>
<text x="435.10" y="162.74" font-size="6.4" text-anchor="start" font-weight="normal" fill="#111" style="stroke-width:0.32px" letter-spacing="0.26">Vehicle control</text>
<line x1="424.50" y1="170.70" x2="431.90" y2="170.70" stroke="#55a2f6" stroke-width="1.0"/>
<path d="M428.20 168.91L429.99 172.13L426.41 172.13Z" fill="#55a2f6"/>
<text x="435.10" y="172.84" font-size="6.4" text-anchor="start" font-weight="normal" fill="#111" style="stroke-width:0.32px" letter-spacing="0.26">Imlunestant tosylate, 5 mpk</text>
<line x1="424.50" y1="180.60" x2="431.90" y2="180.60" stroke="#b4b4b4" stroke-width="1.0"/>
<path d="M428.20 182.38L429.99 179.17L426.41 179.17Z" fill="#b4b4b4"/>
<text x="435.10" y="182.74" font-size="6.4" text-anchor="start" font-weight="normal" fill="#111" style="stroke-width:0.32px" letter-spacing="0.26">Fulvestrant, 5 mg/dose</text>
<line x1="424.50" y1="190.60" x2="431.90" y2="190.60" stroke="#ec1a8a" stroke-width="1.0"/>
<rect x="426.52" y="188.92" width="3.36" height="3.36" rx="0.63" fill="#ec1a8a"/>
<text x="435.10" y="192.74" font-size="6.4" text-anchor="start" font-weight="normal" fill="#111" style="stroke-width:0.32px" letter-spacing="0.26">Abemaciclib, 50 mpk</text>
<line x1="424.50" y1="200.70" x2="431.90" y2="200.70" stroke="#5a1458" stroke-width="1.0"/>
<path d="M428.20 202.48L429.99 199.27L426.41 199.27Z" fill="#5a1458"/>
<text x="435.10" y="202.84" font-size="6.4" text-anchor="start" font-weight="normal" fill="#111" style="stroke-width:0.32px" letter-spacing="0.26">Fulvestrant + abemaciclib</text>
<line x1="424.50" y1="214.40" x2="431.90" y2="214.40" stroke="#1db877" stroke-width="1.0"/>
<circle cx="428.20" cy="214.40" r="1.68" fill="#1db877"/>
<text x="435.10" y="212.34" font-size="6.4" text-anchor="start" font-weight="normal" fill="#111" style="stroke-width:0.32px" letter-spacing="0.26">Imlunestrant tosylate</text>
<text x="435.10" y="220.14" font-size="6.4" text-anchor="start" font-weight="normal" fill="#111" style="stroke-width:0.32px" letter-spacing="0.26">+ abemaciclib</text>
<text x="0.30" y="260.00" font-size="11.0" text-anchor="start" font-weight="bold" fill="#111" >E</text>
<text x="88.30" y="259.90" font-size="8.0" text-anchor="middle" font-weight="bold" fill="#111" >T47D</text>
<text x="88.30" y="266.46" font-size="4.8" text-anchor="middle" font-weight="bold" fill="#111" letter-spacing="0.22" style="stroke-width:0.24px">ESR1-WT, PIK3CA H1047R</text>
<line x1="43.30" y1="262.50" x2="43.30" y2="358.30" stroke="#3a3a3a" stroke-width="1.3"/>
<line x1="40.70" y1="358.30" x2="43.30" y2="358.30" stroke="#3a3a3a" stroke-width="1.1"/>
<text x="39.00" y="360.00" font-size="6.3" text-anchor="end" font-weight="normal" fill="#111" style="stroke-width:0.34px">0</text>
<line x1="40.70" y1="339.14" x2="43.30" y2="339.14" stroke="#3a3a3a" stroke-width="1.1"/>
<text x="39.00" y="340.84" font-size="6.3" text-anchor="end" font-weight="normal" fill="#111" style="stroke-width:0.34px">200</text>
<line x1="40.70" y1="319.98" x2="43.30" y2="319.98" stroke="#3a3a3a" stroke-width="1.1"/>
<text x="39.00" y="321.69" font-size="6.3" text-anchor="end" font-weight="normal" fill="#111" style="stroke-width:0.34px">400</text>
<line x1="40.70" y1="300.82" x2="43.30" y2="300.82" stroke="#3a3a3a" stroke-width="1.1"/>
<text x="39.00" y="302.52" font-size="6.3" text-anchor="end" font-weight="normal" fill="#111" style="stroke-width:0.34px">600</text>
<line x1="40.70" y1="281.66" x2="43.30" y2="281.66" stroke="#3a3a3a" stroke-width="1.1"/>
<text x="39.00" y="283.37" font-size="6.3" text-anchor="end" font-weight="normal" fill="#111" style="stroke-width:0.34px">800</text>
<line x1="40.70" y1="262.50" x2="43.30" y2="262.50" stroke="#3a3a3a" stroke-width="1.1"/>
<text x="39.00" y="264.20" font-size="6.3" text-anchor="end" font-weight="normal" fill="#111" style="stroke-width:0.34px">1,000</text>
<line x1="42.65" y1="358.30" x2="133.38" y2="358.30" stroke="#3a3a3a" stroke-width="1.3"/>
<line x1="45.90" y1="358.30" x2="45.90" y2="360.90" stroke="#3a3a3a" stroke-width="1.1"/>
<text x="45.90" y="368.11" font-size="6.3" text-anchor="middle" font-weight="normal" fill="#111" style="stroke-width:0.34px">0</text>
<line x1="67.67" y1="358.30" x2="67.67" y2="360.90" stroke="#3a3a3a" stroke-width="1.1"/>
<text x="67.67" y="368.11" font-size="6.3" text-anchor="middle" font-weight="normal" fill="#111" style="stroke-width:0.34px">7</text>
<line x1="89.44" y1="358.30" x2="89.44" y2="360.90" stroke="#3a3a3a" stroke-width="1.1"/>
<text x="89.44" y="368.11" font-size="6.3" text-anchor="middle" font-weight="normal" fill="#111" style="stroke-width:0.34px">14</text>
<line x1="111.21" y1="358.30" x2="111.21" y2="360.90" stroke="#3a3a3a" stroke-width="1.1"/>
<text x="111.21" y="368.11" font-size="6.3" text-anchor="middle" font-weight="normal" fill="#111" style="stroke-width:0.34px">21</text>
<line x1="132.98" y1="358.30" x2="132.98" y2="360.90" stroke="#3a3a3a" stroke-width="1.1"/>
<text x="132.98" y="368.11" font-size="6.3" text-anchor="middle" font-weight="normal" fill="#111" style="stroke-width:0.34px">28</text>
<text x="88.60" y="377.44" font-size="6.4" text-anchor="middle" font-weight="bold" fill="#111" >Days</text>
<g transform="translate(6.40,310.10) rotate(-90)">
<text x="0.00" y="0.00" font-size="6.2" text-anchor="middle" font-weight="normal" fill="#111" letter-spacing="0.36" style="stroke-width:0.3px">Tumor volume (mm<tspan font-size="3.8" dy="-2">3</tspan><tspan dy="2">)</tspan></text>
<text x="0.00" y="7.80" font-size="6.2" text-anchor="middle" font-weight="normal" fill="#111" letter-spacing="0.36" style="stroke-width:0.3px">Mean ± SEM</text>
</g>
<line x1="45.90" y1="353.70" x2="132.98" y2="353.70" stroke="#1a1a1a" stroke-width="1.4"/>
<path d="M45.90 329.40 L55.23 337.20 L67.67 340.30 L77.00 340.30 L89.44 341.50 L98.77 343.20 L111.21 341.80 L120.54 339.50 L132.98 343.80" fill="none" stroke="#5a1458" stroke-width="0.9" stroke-linejoin="round"/>
<path d="M45.90 327.45L47.85 329.40L45.90 331.35L43.95 329.40Z" fill="#5a1458"/>
<path d="M55.23 335.25L57.18 337.20L55.23 339.15L53.28 337.20Z" fill="#5a1458"/>
<path d="M67.67 338.35L69.62 340.30L67.67 342.25L65.72 340.30Z" fill="#5a1458"/>
<path d="M77.00 338.35L78.95 340.30L77.00 342.25L75.05 340.30Z" fill="#5a1458"/>
<path d="M89.44 339.55L91.39 341.50L89.44 343.45L87.49 341.50Z" fill="#5a1458"/>
<path d="M98.77 341.25L100.72 343.20L98.77 345.15L96.82 343.20Z" fill="#5a1458"/>
<path d="M111.21 339.85L113.16 341.80L111.21 343.75L109.26 341.80Z" fill="#5a1458"/>
<path d="M120.54 337.55L122.49 339.50L120.54 341.45L118.59 339.50Z" fill="#5a1458"/>
<path d="M132.98 341.85L134.93 343.80L132.98 345.75L131.03 343.80Z" fill="#5a1458"/>
<path d="M45.90 326.00 L55.23 333.10 L67.67 335.20 L77.00 331.70 L89.44 328.50 L98.77 329.40 L111.21 325.10 L120.54 324.50 L132.98 331.40" fill="none" stroke="#1db877" stroke-width="0.9" stroke-linejoin="round"/>
<circle cx="45.90" cy="326.00" r="1.92" fill="#1db877"/>
<circle cx="55.23" cy="333.10" r="1.92" fill="#1db877"/>
<circle cx="67.67" cy="335.20" r="1.92" fill="#1db877"/>
<circle cx="77.00" cy="331.70" r="1.92" fill="#1db877"/>
<circle cx="89.44" cy="328.50" r="1.92" fill="#1db877"/>
<circle cx="98.77" cy="329.40" r="1.92" fill="#1db877"/>
<circle cx="111.21" cy="325.10" r="1.92" fill="#1db877"/>
<circle cx="120.54" cy="324.50" r="1.92" fill="#1db877"/>
<circle cx="132.98" cy="331.40" r="1.92" fill="#1db877"/>
<path d="M111.2 322.2V325.2M109.6 322.2H112.8M109.6 325.2H112.8" stroke="#55a2f6" stroke-width="0.7" opacity="0.8" fill="none"/>
<path d="M120.5 322.2V325.2M118.9 322.2H122.1M118.9 325.2H122.1" stroke="#55a2f6" stroke-width="0.7" opacity="0.8" fill="none"/>
<path d="M133.0 329.6V332.0M131.4 329.6H134.6M131.4 332.0H134.6" stroke="#55a2f6" stroke-width="0.7" opacity="0.8" fill="none"/>
<path d="M45.90 329.40 L55.23 329.40 L67.67 327.40 L77.00 326.50 L89.44 328.50 L98.77 328.50 L111.21 323.70 L120.54 323.70 L132.98 330.80" fill="none" stroke="#6fb0f7" stroke-width="0.9" stroke-linejoin="round"/>
<rect x="43.82" y="327.32" width="4.16" height="4.16" rx="0.78" fill="#55a2f6"/>
<rect x="53.15" y="327.32" width="4.16" height="4.16" rx="0.78" fill="#55a2f6"/>
<rect x="65.59" y="325.32" width="4.16" height="4.16" rx="0.78" fill="#55a2f6"/>
<rect x="74.92" y="324.42" width="4.16" height="4.16" rx="0.78" fill="#55a2f6"/>
<rect x="87.36" y="326.42" width="4.16" height="4.16" rx="0.78" fill="#55a2f6"/>
<rect x="96.69" y="326.42" width="4.16" height="4.16" rx="0.78" fill="#55a2f6"/>
<rect x="109.13" y="321.62" width="4.16" height="4.16" rx="0.78" fill="#55a2f6"/>
<rect x="118.46" y="321.62" width="4.16" height="4.16" rx="0.78" fill="#55a2f6"/>
<rect x="130.90" y="328.72" width="4.16" height="4.16" rx="0.78" fill="#55a2f6"/>
<path d="M67.7 319.6V323.6M65.9 319.6H69.5M65.9 323.6H69.5" stroke="#555" stroke-width="0.7" opacity="0.8" fill="none"/>
<path d="M77.0 312.0V318.0M75.2 312.0H78.8M75.2 318.0H78.8" stroke="#555" stroke-width="0.7" opacity="0.8" fill="none"/>
<path d="M89.4 306.9V312.9M87.6 306.9H91.2M87.6 312.9H91.2" stroke="#555" stroke-width="0.7" opacity="0.8" fill="none"/>
<path d="M98.8 300.0V307.0M97.0 300.0H100.6M97.0 307.0H100.6" stroke="#555" stroke-width="0.7" opacity="0.8" fill="none"/>
<path d="M111.2 291.4V298.4M109.4 291.4H113.0M109.4 298.4H113.0" stroke="#555" stroke-width="0.7" opacity="0.8" fill="none"/>
<path d="M120.5 275.5V288.5M118.7 275.5H122.3M118.7 288.5H122.3" stroke="#555" stroke-width="0.7" opacity="0.8" fill="none"/>
<path d="M133.0 276.0V292.0M131.2 276.0H134.8M131.2 292.0H134.8" stroke="#555" stroke-width="0.7" opacity="0.8" fill="none"/>
<path d="M45.90 329.40 L55.23 326.00 L67.67 321.60 L77.00 315.00 L89.44 309.90 L98.77 303.50 L111.21 294.90 L120.54 282.00 L132.98 284.00" fill="none" stroke="#111" stroke-width="0.9" stroke-linejoin="round"/>
<circle cx="45.90" cy="329.40" r="1.92" fill="#111"/>
<circle cx="55.23" cy="326.00" r="1.92" fill="#111"/>
<circle cx="67.67" cy="321.60" r="1.92" fill="#111"/>
<circle cx="77.00" cy="315.00" r="1.92" fill="#111"/>
<circle cx="89.44" cy="309.90" r="1.92" fill="#111"/>
<circle cx="98.77" cy="303.50" r="1.92" fill="#111"/>
<circle cx="111.21" cy="294.90" r="1.92" fill="#111"/>
<circle cx="120.54" cy="282.00" r="1.92" fill="#111"/>
<circle cx="132.98" cy="284.00" r="1.92" fill="#111"/>
<line x1="159.60" y1="298.40" x2="166.50" y2="298.40" stroke="#111" stroke-width="1.0"/>
<circle cx="163.05" cy="298.40" r="1.68" fill="#111"/>
<text x="169.40" y="300.49" font-size="6.25" text-anchor="start" font-weight="normal" fill="#111" style="stroke-width:0.32px" letter-spacing="0.24">Vehicle control</text>
<line x1="159.60" y1="308.50" x2="166.50" y2="308.50" stroke="#55a2f6" stroke-width="1.0"/>
<rect x="161.37" y="306.82" width="3.36" height="3.36" rx="0.63" fill="#55a2f6"/>
<text x="169.40" y="310.59" font-size="6.25" text-anchor="start" font-weight="normal" fill="#111" style="stroke-width:0.32px" letter-spacing="0.24">Imlunestrant tosylate, 5 mpk</text>
<line x1="159.60" y1="318.50" x2="166.50" y2="318.50" stroke="#1db877" stroke-width="1.0"/>
<circle cx="163.05" cy="318.50" r="1.68" fill="#1db877"/>
<text x="169.40" y="320.59" font-size="6.25" text-anchor="start" font-weight="normal" fill="#111" style="stroke-width:0.32px" letter-spacing="0.24">Alpelisib, 30 mpk</text>
<line x1="159.60" y1="328.20" x2="166.50" y2="328.20" stroke="#5a1458" stroke-width="1.0"/>
<path d="M163.05 326.62L164.62 328.20L163.05 329.77L161.48 328.20Z" fill="#5a1458"/>
<text x="169.40" y="330.29" font-size="6.25" text-anchor="start" font-weight="normal" fill="#111" style="stroke-width:0.32px" letter-spacing="0.24">Combination</text>
<text x="269.40" y="260.00" font-size="11.0" text-anchor="start" font-weight="bold" fill="#111" >F</text>
<text x="363.70" y="269.10" font-size="8.0" text-anchor="middle" font-weight="bold" fill="#111" >ESR1-WT-75-1</text>
<text x="363.70" y="275.86" font-size="4.8" text-anchor="middle" font-weight="bold" fill="#111" letter-spacing="0.22" style="stroke-width:0.24px">ESR1 WT, PTEN-Null</text>
<line x1="309.10" y1="285.10" x2="309.10" y2="358.30" stroke="#3a3a3a" stroke-width="1.3"/>
<line x1="306.50" y1="358.30" x2="309.10" y2="358.30" stroke="#3a3a3a" stroke-width="1.1"/>
<text x="304.80" y="360.00" font-size="6.3" text-anchor="end" font-weight="normal" fill="#111" style="stroke-width:0.34px">0</text>
<line x1="306.50" y1="340.00" x2="309.10" y2="340.00" stroke="#3a3a3a" stroke-width="1.1"/>
<text x="304.80" y="341.70" font-size="6.3" text-anchor="end" font-weight="normal" fill="#111" style="stroke-width:0.34px">250</text>
<line x1="306.50" y1="321.70" x2="309.10" y2="321.70" stroke="#3a3a3a" stroke-width="1.1"/>
<text x="304.80" y="323.40" font-size="6.3" text-anchor="end" font-weight="normal" fill="#111" style="stroke-width:0.34px">500</text>
<line x1="306.50" y1="303.40" x2="309.10" y2="303.40" stroke="#3a3a3a" stroke-width="1.1"/>
<text x="304.80" y="305.11" font-size="6.3" text-anchor="end" font-weight="normal" fill="#111" style="stroke-width:0.34px">750</text>
<line x1="306.50" y1="285.10" x2="309.10" y2="285.10" stroke="#3a3a3a" stroke-width="1.1"/>
<text x="304.80" y="286.81" font-size="6.3" text-anchor="end" font-weight="normal" fill="#111" style="stroke-width:0.34px">1,000</text>
<line x1="308.45" y1="358.30" x2="418.04" y2="358.30" stroke="#3a3a3a" stroke-width="1.3"/>
<line x1="311.00" y1="358.30" x2="311.00" y2="360.90" stroke="#3a3a3a" stroke-width="1.1"/>
<text x="311.00" y="367.91" font-size="6.3" text-anchor="middle" font-weight="normal" fill="#111" style="stroke-width:0.34px">0</text>
<line x1="328.77" y1="358.30" x2="328.77" y2="360.90" stroke="#3a3a3a" stroke-width="1.1"/>
<text x="328.77" y="367.91" font-size="6.3" text-anchor="middle" font-weight="normal" fill="#111" style="stroke-width:0.34px">7</text>
<line x1="346.55" y1="358.30" x2="346.55" y2="360.90" stroke="#3a3a3a" stroke-width="1.1"/>
<text x="346.55" y="367.91" font-size="6.3" text-anchor="middle" font-weight="normal" fill="#111" style="stroke-width:0.34px">14</text>
<line x1="364.32" y1="358.30" x2="364.32" y2="360.90" stroke="#3a3a3a" stroke-width="1.1"/>
<text x="364.32" y="367.91" font-size="6.3" text-anchor="middle" font-weight="normal" fill="#111" style="stroke-width:0.34px">21</text>
<line x1="382.09" y1="358.30" x2="382.09" y2="360.90" stroke="#3a3a3a" stroke-width="1.1"/>
<text x="382.09" y="367.91" font-size="6.3" text-anchor="middle" font-weight="normal" fill="#111" style="stroke-width:0.34px">28</text>
<line x1="399.87" y1="358.30" x2="399.87" y2="360.90" stroke="#3a3a3a" stroke-width="1.1"/>
<text x="399.87" y="367.91" font-size="6.3" text-anchor="middle" font-weight="normal" fill="#111" style="stroke-width:0.34px">35</text>
<line x1="417.64" y1="358.30" x2="417.64" y2="360.90" stroke="#3a3a3a" stroke-width="1.1"/>
<text x="417.64" y="367.91" font-size="6.3" text-anchor="middle" font-weight="normal" fill="#111" style="stroke-width:0.34px">42</text>
<text x="364.20" y="377.74" font-size="6.4" text-anchor="middle" font-weight="bold" fill="#111" >Days</text>
<g transform="translate(273.10,321.10) rotate(-90)">
<text x="0.00" y="0.00" font-size="6.2" text-anchor="middle" font-weight="normal" fill="#111" letter-spacing="0.36" style="stroke-width:0.3px">Tumor volume (mm<tspan font-size="3.8" dy="-2">3</tspan><tspan dy="2">)</tspan></text>
<text x="0.00" y="7.80" font-size="6.2" text-anchor="middle" font-weight="normal" fill="#111" letter-spacing="0.36" style="stroke-width:0.3px">Mean ± SEM</text>
</g>
<line x1="311.51" y1="354.80" x2="417.64" y2="354.80" stroke="#333" stroke-width="1.7"/>
<path d="M311.00 342.60 L318.62 344.10 L328.77 343.30 L336.39 344.60 L346.55 346.50 L351.62 346.00 L364.32 346.00 L371.94 344.60 L382.09 345.40 L389.71 346.00 L399.87 342.60 L407.48 338.60 L417.64 340.20" fill="none" stroke="#1db877" stroke-width="1.0" stroke-linejoin="round"/>
<circle cx="311.00" cy="342.60" r="1.60" fill="#1db877"/>
<circle cx="318.62" cy="344.10" r="1.60" fill="#1db877"/>
<circle cx="328.77" cy="343.30" r="1.60" fill="#1db877"/>
<circle cx="336.39" cy="344.60" r="1.60" fill="#1db877"/>
<circle cx="346.55" cy="346.50" r="1.60" fill="#1db877"/>
<circle cx="351.62" cy="346.00" r="1.60" fill="#1db877"/>
<circle cx="364.32" cy="346.00" r="1.60" fill="#1db877"/>
<circle cx="371.94" cy="344.60" r="1.60" fill="#1db877"/>
<circle cx="382.09" cy="345.40" r="1.60" fill="#1db877"/>
<circle cx="389.71" cy="346.00" r="1.60" fill="#1db877"/>
<circle cx="399.87" cy="342.60" r="1.60" fill="#1db877"/>
<circle cx="407.48" cy="338.60" r="1.60" fill="#1db877"/>
<circle cx="417.64" cy="340.20" r="1.60" fill="#1db877"/>
<path d="M346.5 346.6V349.6M344.9 346.6H348.1M344.9 349.6H348.1" stroke="#55a2f6" stroke-width="0.7" opacity="0.8" fill="none"/>
<path d="M351.6 343.1V346.1M350.0 343.1H353.2M350.0 346.1H353.2" stroke="#55a2f6" stroke-width="0.7" opacity="0.8" fill="none"/>
<path d="M399.9 343.1V346.1M398.3 343.1H401.5M398.3 346.1H401.5" stroke="#55a2f6" stroke-width="0.7" opacity="0.8" fill="none"/>
<path d="M407.5 341.9V345.9M405.9 341.9H409.1M405.9 345.9H409.1" stroke="#55a2f6" stroke-width="0.7" opacity="0.8" fill="none"/>
<path d="M417.6 340.0V344.0M416.0 340.0H419.2M416.0 344.0H419.2" stroke="#55a2f6" stroke-width="0.7" opacity="0.8" fill="none"/>
<path d="M311.00 342.60 L318.62 342.80 L328.77 344.10 L336.39 345.40 L346.55 348.10 L351.62 344.60 L364.32 346.00 L371.94 344.60 L382.09 346.00 L389.71 346.00 L399.87 344.60 L407.48 343.90 L417.64 342.00" fill="none" stroke="#55a2f6" stroke-width="1.0" stroke-linejoin="round"/>
<rect x="309.40" y="341.00" width="3.20" height="3.20" rx="0.60" fill="#55a2f6"/>
<rect x="317.02" y="341.20" width="3.20" height="3.20" rx="0.60" fill="#55a2f6"/>
<rect x="327.17" y="342.50" width="3.20" height="3.20" rx="0.60" fill="#55a2f6"/>
<rect x="334.79" y="343.80" width="3.20" height="3.20" rx="0.60" fill="#55a2f6"/>
<rect x="344.95" y="346.50" width="3.20" height="3.20" rx="0.60" fill="#55a2f6"/>
<rect x="350.02" y="343.00" width="3.20" height="3.20" rx="0.60" fill="#55a2f6"/>
<rect x="362.72" y="344.40" width="3.20" height="3.20" rx="0.60" fill="#55a2f6"/>
<rect x="370.34" y="343.00" width="3.20" height="3.20" rx="0.60" fill="#55a2f6"/>
<rect x="380.49" y="344.40" width="3.20" height="3.20" rx="0.60" fill="#55a2f6"/>
<rect x="388.11" y="344.40" width="3.20" height="3.20" rx="0.60" fill="#55a2f6"/>
<rect x="398.26" y="343.00" width="3.20" height="3.20" rx="0.60" fill="#55a2f6"/>
<rect x="405.88" y="342.30" width="3.20" height="3.20" rx="0.60" fill="#55a2f6"/>
<rect x="416.04" y="340.40" width="3.20" height="3.20" rx="0.60" fill="#55a2f6"/>
<path d="M311.00 342.60 L318.62 344.10 L328.77 346.50 L336.39 348.60 L346.55 350.70 L351.62 349.10 L364.32 349.90 L371.94 350.70 L382.09 350.70 L389.71 349.90 L399.87 349.10 L407.48 350.70 L417.64 349.90" fill="none" stroke="#5a1458" stroke-width="1.0" stroke-linejoin="round"/>
<path d="M311.00 341.10L312.50 342.60L311.00 344.10L309.50 342.60Z" fill="#5a1458"/>
<path d="M318.62 342.60L320.12 344.10L318.62 345.60L317.12 344.10Z" fill="#5a1458"/>
<path d="M328.77 345.00L330.27 346.50L328.77 348.00L327.27 346.50Z" fill="#5a1458"/>
<path d="M336.39 347.10L337.89 348.60L336.39 350.10L334.89 348.60Z" fill="#5a1458"/>
<path d="M346.55 349.20L348.05 350.70L346.55 352.20L345.05 350.70Z" fill="#5a1458"/>
<path d="M351.62 347.60L353.12 349.10L351.62 350.60L350.12 349.10Z" fill="#5a1458"/>
<path d="M364.32 348.40L365.82 349.90L364.32 351.40L362.82 349.90Z" fill="#5a1458"/>
<path d="M371.94 349.20L373.44 350.70L371.94 352.20L370.44 350.70Z" fill="#5a1458"/>
<path d="M382.09 349.20L383.59 350.70L382.09 352.20L380.59 350.70Z" fill="#5a1458"/>
<path d="M389.71 348.40L391.21 349.90L389.71 351.40L388.21 349.90Z" fill="#5a1458"/>
<path d="M399.87 347.60L401.37 349.10L399.87 350.60L398.37 349.10Z" fill="#5a1458"/>
<path d="M407.48 349.20L408.98 350.70L407.48 352.20L405.98 350.70Z" fill="#5a1458"/>
<path d="M417.64 348.40L419.14 349.90L417.64 351.40L416.14 349.90Z" fill="#5a1458"/>
<path d="M364.3 328.3V331.3M362.7 328.3H365.9M362.7 331.3H365.9" stroke="#666" stroke-width="0.7" opacity="0.8" fill="none"/>
<path d="M371.9 321.2V325.2M370.3 321.2H373.5M370.3 325.2H373.5" stroke="#666" stroke-width="0.7" opacity="0.8" fill="none"/>
<path d="M382.1 319.9V324.9M380.5 319.9H383.7M380.5 324.9H383.7" stroke="#666" stroke-width="0.7" opacity="0.8" fill="none"/>
<path d="M389.7 317.3V323.9M388.1 317.3H391.3M388.1 323.9H391.3" stroke="#666" stroke-width="0.7" opacity="0.8" fill="none"/>
<path d="M399.9 313.4V324.6M398.3 313.4H401.5M398.3 324.6H401.5" stroke="#666" stroke-width="0.7" opacity="0.8" fill="none"/>
<path d="M407.5 293.6V315.6M405.9 293.6H409.1M405.9 315.6H409.1" stroke="#666" stroke-width="0.7" opacity="0.8" fill="none"/>
<path d="M417.6 299.4V317.8M416.0 299.4H419.2M416.0 317.8H419.2" stroke="#666" stroke-width="0.7" opacity="0.8" fill="none"/>
<path d="M311.00 342.60 L318.62 338.60 L328.77 336.00 L336.39 336.00 L346.55 336.80 L351.62 335.00 L364.32 329.80 L371.94 323.20 L382.09 322.40 L389.71 320.60 L399.87 319.00 L407.48 304.60 L417.64 308.60" fill="none" stroke="#111" stroke-width="1.0" stroke-linejoin="round"/>
<circle cx="311.00" cy="342.60" r="1.60" fill="#111"/>
<circle cx="318.62" cy="338.60" r="1.60" fill="#111"/>
<circle cx="328.77" cy="336.00" r="1.60" fill="#111"/>
<circle cx="336.39" cy="336.00" r="1.60" fill="#111"/>
<circle cx="346.55" cy="336.80" r="1.60" fill="#111"/>
<circle cx="351.62" cy="335.00" r="1.60" fill="#111"/>
<circle cx="364.32" cy="329.80" r="1.60" fill="#111"/>
<circle cx="371.94" cy="323.20" r="1.60" fill="#111"/>
<circle cx="382.09" cy="322.40" r="1.60" fill="#111"/>
<circle cx="389.71" cy="320.60" r="1.60" fill="#111"/>
<circle cx="399.87" cy="319.00" r="1.60" fill="#111"/>
<circle cx="407.48" cy="304.60" r="1.60" fill="#111"/>
<circle cx="417.64" cy="308.60" r="1.60" fill="#111"/>
<line x1="424.70" y1="301.20" x2="432.20" y2="301.20" stroke="#111" stroke-width="1.0"/>
<circle cx="428.45" cy="301.20" r="1.68" fill="#111"/>
<text x="435.20" y="303.34" font-size="6.4" text-anchor="start" font-weight="normal" fill="#111" style="stroke-width:0.32px" letter-spacing="0.26">Vehicle control</text>
<line x1="424.70" y1="310.80" x2="432.20" y2="310.80" stroke="#55a2f6" stroke-width="1.0"/>
<rect x="426.77" y="309.12" width="3.36" height="3.36" rx="0.63" fill="#55a2f6"/>
<text x="435.20" y="312.94" font-size="6.4" text-anchor="start" font-weight="normal" fill="#111" style="stroke-width:0.32px" letter-spacing="0.26">Imlunestrant, 10 mpk</text>
<line x1="424.70" y1="320.70" x2="432.20" y2="320.70" stroke="#1db877" stroke-width="1.0"/>
<circle cx="428.45" cy="320.70" r="1.68" fill="#1db877"/>
<text x="435.20" y="322.84" font-size="6.4" text-anchor="start" font-weight="normal" fill="#111" style="stroke-width:0.32px" letter-spacing="0.26">Everolimus, 5 mpk</text>
<line x1="424.70" y1="330.40" x2="432.20" y2="330.40" stroke="#5a1458" stroke-width="1.0"/>
<path d="M428.45 328.82L430.02 330.40L428.45 331.97L426.88 330.40Z" fill="#5a1458"/>
<text x="435.20" y="332.54" font-size="6.4" text-anchor="start" font-weight="normal" fill="#111" style="stroke-width:0.32px" letter-spacing="0.26">Combination</text>
</svg></body></html>
